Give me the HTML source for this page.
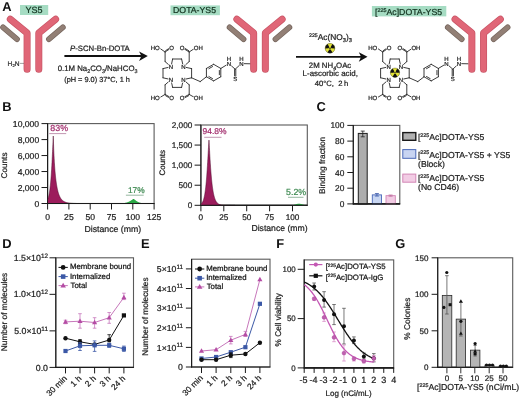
<!DOCTYPE html>
<html><head><meta charset="utf-8"><style>
html,body{margin:0;padding:0;background:#fff;width:520px;height:399px;overflow:hidden}
svg{display:block}
text{font-family:'Liberation Sans', Arial, sans-serif}
</style></head><body>
<svg width="520" height="399" viewBox="0 0 520 399" font-family="'Liberation Sans', Arial, sans-serif" text-rendering="geometricPrecision">
<rect width="520" height="399" fill="#fff"/>
<text x="2.36" y="10.60" font-size="12.9" text-anchor="start" fill="#111" stroke="#111" stroke-width="0" font-weight="bold" >A</text>
<text x="2.35" y="111.00" font-size="12.9" text-anchor="start" fill="#111" stroke="#111" stroke-width="0" font-weight="bold" >B</text>
<text x="316.53" y="111.40" font-size="12.9" text-anchor="start" fill="#111" stroke="#111" stroke-width="0" font-weight="bold" >C</text>
<text x="2.15" y="247.80" font-size="12.9" text-anchor="start" fill="#111" stroke="#111" stroke-width="0" font-weight="bold" >D</text>
<text x="140.95" y="247.80" font-size="12.9" text-anchor="start" fill="#111" stroke="#111" stroke-width="0" font-weight="bold" >E</text>
<text x="276.15" y="247.80" font-size="12.9" text-anchor="start" fill="#111" stroke="#111" stroke-width="0" font-weight="bold" >F</text>
<text x="395.13" y="247.80" font-size="12.9" text-anchor="start" fill="#111" stroke="#111" stroke-width="0" font-weight="bold" >G</text>
<rect x="20" y="5" width="28.2" height="10" fill="#a6dcc3"/>
<text x="25.38" y="13.20" font-size="9.011" text-anchor="start" fill="#12321f" stroke="#12321f" stroke-width="0.22" >YS5</text>
<g fill="none" stroke-linecap="round" stroke-linejoin="round">
<polyline points="3.10,27.40 16.95,39.10" stroke="#75655d" stroke-width="5.8" fill="none" />
<polyline points="3.10,27.40 16.95,39.10" stroke="#927f75" stroke-width="4.4" fill="none" />
<polyline points="62.80,27.40 48.95,39.10" stroke="#75655d" stroke-width="5.8" fill="none" />
<polyline points="62.80,27.40 48.95,39.10" stroke="#927f75" stroke-width="4.4" fill="none" />
<polyline points="10.30,19.20 27.10,33.00 27.10,69.20" stroke="#c85566" stroke-width="7.0" fill="none" />
<polyline points="10.30,19.20 27.10,33.00 27.10,69.20" stroke="#e06677" stroke-width="5.6" fill="none" />
<polyline points="55.60,19.20 38.80,33.00 38.80,69.20" stroke="#c85566" stroke-width="7.0" fill="none" />
<polyline points="55.60,19.20 38.80,33.00 38.80,69.20" stroke="#e06677" stroke-width="5.6" fill="none" />
</g>
<text x="7.62" y="65.70" font-size="6.626" text-anchor="start" fill="#333" stroke="#333" stroke-width="0.22" >H<tspan font-size="4.11" dy="0.80">2</tspan><tspan dy="-0.80">N</tspan></text>
<line x1="19.80" y1="63.40" x2="24.00" y2="63.40" stroke="#555" stroke-width="0.55" />
<line x1="64.40" y1="56.00" x2="141.80" y2="56.00" stroke="#111" stroke-width="1.8" />
<polygon points="147.80,56.00 139.10,51.40 141.40,56.00 139.10,60.90" fill="#111" stroke="none" stroke-width="0" />
<text x="70.02" y="50.70" font-size="7.757" text-anchor="start" fill="#222" stroke="#222" stroke-width="0.22" ><tspan font-style="italic">P</tspan>-SCN-Bn-DOTA</text>
<text x="57.64" y="71.10" font-size="7.836" text-anchor="start" fill="#222" stroke="#222" stroke-width="0.22" >0.1M Na<tspan font-size="5.33" dy="2.35">2</tspan><tspan dy="-2.35">CO</tspan><tspan font-size="5.33" dy="2.35">3</tspan><tspan dy="-2.35">/NaHCO</tspan><tspan font-size="5.33" dy="2.35">3</tspan></text>
<text x="64.21" y="81.70" font-size="7.367" text-anchor="start" fill="#222" stroke="#222" stroke-width="0.22" >(pH = 9.0) 37°C, 1 h</text>
<rect x="170.5" y="5.4" width="49.4" height="9.8" fill="#a6dcc3"/>
<text x="173.05" y="13.30" font-size="8.729" text-anchor="start" fill="#12321f" stroke="#12321f" stroke-width="0.22" >DOTA-YS5</text>
<g transform="translate(0.00,0.00)" stroke="#262626" stroke-width="0.75" fill="none" stroke-linecap="round">
<line x1="171.52" y1="64.25" x2="172.60" y2="59.00" stroke="#262626" stroke-width="0.9" />
<line x1="172.60" y1="59.00" x2="181.60" y2="59.00" stroke="#262626" stroke-width="0.9" />
<line x1="181.60" y1="59.00" x2="182.75" y2="64.26" stroke="#262626" stroke-width="0.9" />
<line x1="171.52" y1="82.15" x2="172.60" y2="87.40" stroke="#262626" stroke-width="0.9" />
<line x1="172.60" y1="87.40" x2="181.60" y2="87.40" stroke="#262626" stroke-width="0.9" />
<line x1="181.60" y1="87.40" x2="182.75" y2="82.14" stroke="#262626" stroke-width="0.9" />
<line x1="168.46" y1="67.37" x2="163.00" y2="68.60" stroke="#262626" stroke-width="0.9" />
<line x1="163.00" y1="68.60" x2="163.00" y2="77.80" stroke="#262626" stroke-width="0.9" />
<line x1="163.00" y1="77.80" x2="168.46" y2="79.03" stroke="#262626" stroke-width="0.9" />
<line x1="185.84" y1="67.35" x2="191.60" y2="68.60" stroke="#262626" stroke-width="0.9" />
<line x1="191.60" y1="68.60" x2="191.60" y2="77.80" stroke="#262626" stroke-width="0.9" />
<line x1="191.60" y1="77.80" x2="185.84" y2="79.05" stroke="#262626" stroke-width="0.9" />
<line x1="169.05" y1="65.08" x2="165.10" y2="61.60" stroke="#262626" stroke-width="0.9" />
<line x1="165.10" y1="61.60" x2="165.10" y2="52.00" stroke="#262626" stroke-width="0.9" />
<line x1="165.10" y1="52.00" x2="169.90" y2="48.80" stroke="#262626" stroke-width="0.9" />
<line x1="165.60" y1="50.67" x2="169.90" y2="47.80" stroke="#262626" stroke-width="0.9" />
<line x1="165.10" y1="52.00" x2="160.74" y2="48.95" stroke="#262626" stroke-width="0.9" />
<line x1="185.25" y1="65.08" x2="189.20" y2="61.60" stroke="#262626" stroke-width="0.9" />
<line x1="189.20" y1="61.60" x2="189.20" y2="52.00" stroke="#262626" stroke-width="0.9" />
<line x1="189.20" y1="52.00" x2="183.93" y2="48.75" stroke="#262626" stroke-width="0.9" />
<line x1="188.69" y1="50.68" x2="183.93" y2="47.75" stroke="#262626" stroke-width="0.9" />
<line x1="189.20" y1="52.00" x2="193.84" y2="48.91" stroke="#262626" stroke-width="0.9" />
<line x1="169.05" y1="81.32" x2="165.10" y2="84.80" stroke="#262626" stroke-width="0.9" />
<line x1="165.10" y1="84.80" x2="165.10" y2="94.40" stroke="#262626" stroke-width="0.9" />
<line x1="165.10" y1="94.40" x2="169.84" y2="97.11" stroke="#262626" stroke-width="0.9" />
<line x1="165.62" y1="95.70" x2="169.84" y2="98.11" stroke="#262626" stroke-width="0.9" />
<line x1="165.10" y1="94.40" x2="160.81" y2="96.97" stroke="#262626" stroke-width="0.9" />
<line x1="185.25" y1="81.32" x2="189.20" y2="84.80" stroke="#262626" stroke-width="0.9" />
<line x1="189.20" y1="84.80" x2="189.20" y2="94.40" stroke="#262626" stroke-width="0.9" />
<line x1="189.20" y1="94.40" x2="183.99" y2="97.16" stroke="#262626" stroke-width="0.9" />
<line x1="188.67" y1="95.68" x2="183.99" y2="98.16" stroke="#262626" stroke-width="0.9" />
<line x1="189.20" y1="94.40" x2="193.76" y2="97.01" stroke="#262626" stroke-width="0.9" />
<line x1="191.60" y1="77.80" x2="200.20" y2="81.60" stroke="#262626" stroke-width="0.9" />
<line x1="200.20" y1="81.60" x2="206.30" y2="76.90" stroke="#262626" stroke-width="0.9" />
<line x1="213.60" y1="64.30" x2="220.79" y2="68.45" stroke="#262626" stroke-width="0.9" />
<line x1="220.79" y1="68.45" x2="220.79" y2="76.75" stroke="#262626" stroke-width="0.9" />
<line x1="220.79" y1="76.75" x2="213.60" y2="80.90" stroke="#262626" stroke-width="0.9" />
<line x1="213.60" y1="80.90" x2="206.41" y2="76.75" stroke="#262626" stroke-width="0.9" />
<line x1="206.41" y1="76.75" x2="206.41" y2="68.45" stroke="#262626" stroke-width="0.9" />
<line x1="206.41" y1="68.45" x2="213.60" y2="64.30" stroke="#262626" stroke-width="0.9" />
<line x1="208.89" y1="68.68" x2="212.56" y2="66.56" stroke="#262626" stroke-width="0.9" />
<line x1="219.35" y1="70.48" x2="219.35" y2="74.72" stroke="#262626" stroke-width="0.9" />
<line x1="212.56" y1="78.64" x2="208.89" y2="76.52" stroke="#262626" stroke-width="0.9" />
<line x1="220.79" y1="68.45" x2="226.92" y2="64.74" stroke="#262626" stroke-width="0.9" />
<line x1="230.61" y1="65.18" x2="235.20" y2="69.20" stroke="#262626" stroke-width="0.9" />
<line x1="235.20" y1="69.20" x2="239.53" y2="65.22" stroke="#262626" stroke-width="0.9" />
<line x1="234.60" y1="69.50" x2="234.60" y2="76.30" stroke="#262626" stroke-width="0.9" />
<line x1="235.80" y1="69.50" x2="235.80" y2="76.30" stroke="#262626" stroke-width="0.9" />
<line x1="243.70" y1="63.65" x2="250.50" y2="63.80" stroke="#262626" stroke-width="0.9" />
</g>
<g transform="translate(0.00,0.00)" font-family="'Liberation Sans', Arial, sans-serif" font-size="6" fill="#222" text-anchor="middle">
<text x="171.00" y="68.95" text-anchor="middle" stroke="#fff" stroke-width="1.4" fill="#fff">N</text>
<text x="171.00" y="68.95" text-anchor="middle" stroke="#222" stroke-width="0.22">N</text>
<text x="183.30" y="68.95" text-anchor="middle" stroke="#fff" stroke-width="1.4" fill="#fff">N</text>
<text x="183.30" y="68.95" text-anchor="middle" stroke="#222" stroke-width="0.22">N</text>
<text x="171.00" y="81.75" text-anchor="middle" stroke="#fff" stroke-width="1.4" fill="#fff">N</text>
<text x="171.00" y="81.75" text-anchor="middle" stroke="#222" stroke-width="0.22">N</text>
<text x="183.30" y="81.75" text-anchor="middle" stroke="#fff" stroke-width="1.4" fill="#fff">N</text>
<text x="183.30" y="81.75" text-anchor="middle" stroke="#222" stroke-width="0.22">N</text>
<text x="155.20" y="49.95" text-anchor="middle" stroke="#fff" stroke-width="1.4" fill="#fff">HO</text>
<text x="155.20" y="49.95" text-anchor="middle" stroke="#222" stroke-width="0.22">HO</text>
<text x="171.60" y="49.95" text-anchor="middle" stroke="#fff" stroke-width="1.4" fill="#fff">O</text>
<text x="171.60" y="49.95" text-anchor="middle" stroke="#222" stroke-width="0.22">O</text>
<text x="182.20" y="49.95" text-anchor="middle" stroke="#fff" stroke-width="1.4" fill="#fff">O</text>
<text x="182.20" y="49.95" text-anchor="middle" stroke="#222" stroke-width="0.22">O</text>
<text x="198.30" y="49.95" text-anchor="middle" stroke="#fff" stroke-width="1.4" fill="#fff">OH</text>
<text x="198.30" y="49.95" text-anchor="middle" stroke="#222" stroke-width="0.22">OH</text>
<text x="155.20" y="100.15" text-anchor="middle" stroke="#fff" stroke-width="1.4" fill="#fff">HO</text>
<text x="155.20" y="100.15" text-anchor="middle" stroke="#222" stroke-width="0.22">HO</text>
<text x="171.60" y="100.15" text-anchor="middle" stroke="#fff" stroke-width="1.4" fill="#fff">O</text>
<text x="171.60" y="100.15" text-anchor="middle" stroke="#222" stroke-width="0.22">O</text>
<text x="182.20" y="100.15" text-anchor="middle" stroke="#fff" stroke-width="1.4" fill="#fff">O</text>
<text x="182.20" y="100.15" text-anchor="middle" stroke="#222" stroke-width="0.22">O</text>
<text x="198.30" y="100.15" text-anchor="middle" stroke="#fff" stroke-width="1.4" fill="#fff">OH</text>
<text x="198.30" y="100.15" text-anchor="middle" stroke="#222" stroke-width="0.22">OH</text>
<text x="228.80" y="65.75" text-anchor="middle" stroke="#fff" stroke-width="1.4" fill="#fff">N</text>
<text x="228.80" y="65.75" text-anchor="middle" stroke="#222" stroke-width="0.22">N</text>
<text x="228.80" y="60.95" text-anchor="middle" stroke="#fff" stroke-width="1.4" fill="#fff">H</text>
<text x="228.80" y="60.95" text-anchor="middle" stroke="#222" stroke-width="0.22">H</text>
<text x="241.30" y="65.75" text-anchor="middle" stroke="#fff" stroke-width="1.4" fill="#fff">N</text>
<text x="241.30" y="65.75" text-anchor="middle" stroke="#222" stroke-width="0.22">N</text>
<text x="241.30" y="60.95" text-anchor="middle" stroke="#fff" stroke-width="1.4" fill="#fff">H</text>
<text x="241.30" y="60.95" text-anchor="middle" stroke="#222" stroke-width="0.22">H</text>
<text x="235.20" y="80.65" text-anchor="middle" stroke="#fff" stroke-width="1.4" fill="#fff">S</text>
<text x="235.20" y="80.65" text-anchor="middle" stroke="#222" stroke-width="0.22">S</text>
</g>
<g fill="none" stroke-linecap="round" stroke-linejoin="round">
<polyline points="229.65,27.40 243.50,39.10" stroke="#75655d" stroke-width="5.8" fill="none" />
<polyline points="229.65,27.40 243.50,39.10" stroke="#927f75" stroke-width="4.4" fill="none" />
<polyline points="289.35,27.40 275.50,39.10" stroke="#75655d" stroke-width="5.8" fill="none" />
<polyline points="289.35,27.40 275.50,39.10" stroke="#927f75" stroke-width="4.4" fill="none" />
<polyline points="236.85,19.20 253.65,33.00 253.65,69.20" stroke="#c85566" stroke-width="7.0" fill="none" />
<polyline points="236.85,19.20 253.65,33.00 253.65,69.20" stroke="#e06677" stroke-width="5.6" fill="none" />
<polyline points="282.15,19.20 265.35,33.00 265.35,69.20" stroke="#c85566" stroke-width="7.0" fill="none" />
<polyline points="282.15,19.20 265.35,33.00 265.35,69.20" stroke="#e06677" stroke-width="5.6" fill="none" />
</g>
<line x1="296.00" y1="56.80" x2="361.50" y2="56.80" stroke="#111" stroke-width="1.8" />
<polygon points="367.50,56.80 358.80,52.20 361.10,56.80 358.80,61.70" fill="#111" stroke="none" stroke-width="0" />
<text x="309.00" y="39.60" font-size="8.399" text-anchor="start" fill="#222" stroke="#222" stroke-width="0.22" ><tspan font-size="5.21" dy="-3.02">225</tspan><tspan dy="3.02">Ac(NO</tspan><tspan font-size="5.71" dy="2.52">3</tspan><tspan dy="-2.52">)</tspan><tspan font-size="5.71" dy="2.52">3</tspan></text>
<g transform="translate(330.00,48.30)">
<circle r="5.00" fill="#e2e234"/>
<path d="M0.63,-1.14 L2.38,-4.29 A4.90,4.90 0 0 1 4.90,0.09 L1.30,0.02 A1.30,1.30 0 0 0 0.63,-1.14Z" fill="#111"/>
<path d="M0.67,1.11 L2.52,4.20 A4.90,4.90 0 0 1 -2.52,4.20 L-0.67,1.11 A1.30,1.30 0 0 0 0.67,1.11Z" fill="#111"/>
<path d="M-1.30,0.02 L-4.90,0.09 A4.90,4.90 0 0 1 -2.38,-4.29 L-0.63,-1.14 A1.30,1.30 0 0 0 -1.30,0.02Z" fill="#111"/>
<circle r="0.75" fill="#111"/>
<circle r="4.80" fill="none" stroke="#333" stroke-width="0.40"/>
</g>
<text x="308.86" y="67.80" font-size="7.817" text-anchor="start" fill="#222" stroke="#222" stroke-width="0.22" >2M NH<tspan font-size="5.32" dy="2.35">4</tspan><tspan dy="-2.35">OAc</tspan></text>
<text x="302.62" y="76.40" font-size="7.906" text-anchor="start" fill="#222" stroke="#222" stroke-width="0.22" >L-ascorbic acid,</text>
<text x="314.70" y="85.70" font-size="7.651" text-anchor="start" fill="#222" stroke="#222" stroke-width="0.22" >40°C,&#160; 2&#8201;h</text>
<rect x="371.9" y="6.0" width="74.4" height="10.4" fill="#a6dcc3"/>
<text x="375.04" y="14.70" font-size="8.732" text-anchor="start" fill="#12321f" stroke="#12321f" stroke-width="0.22" >[<tspan font-size="5.41" dy="-3.14">225</tspan><tspan dy="3.14">Ac]DOTA-YS5</tspan></text>
<g transform="translate(217.60,0.00)" stroke="#262626" stroke-width="0.75" fill="none" stroke-linecap="round">
<line x1="171.52" y1="64.25" x2="172.60" y2="59.00" stroke="#262626" stroke-width="0.9" />
<line x1="172.60" y1="59.00" x2="181.60" y2="59.00" stroke="#262626" stroke-width="0.9" />
<line x1="181.60" y1="59.00" x2="182.75" y2="64.26" stroke="#262626" stroke-width="0.9" />
<line x1="171.52" y1="82.15" x2="172.60" y2="87.40" stroke="#262626" stroke-width="0.9" />
<line x1="172.60" y1="87.40" x2="181.60" y2="87.40" stroke="#262626" stroke-width="0.9" />
<line x1="181.60" y1="87.40" x2="182.75" y2="82.14" stroke="#262626" stroke-width="0.9" />
<line x1="168.46" y1="67.37" x2="163.00" y2="68.60" stroke="#262626" stroke-width="0.9" />
<line x1="163.00" y1="68.60" x2="163.00" y2="77.80" stroke="#262626" stroke-width="0.9" />
<line x1="163.00" y1="77.80" x2="168.46" y2="79.03" stroke="#262626" stroke-width="0.9" />
<line x1="185.84" y1="67.35" x2="191.60" y2="68.60" stroke="#262626" stroke-width="0.9" />
<line x1="191.60" y1="68.60" x2="191.60" y2="77.80" stroke="#262626" stroke-width="0.9" />
<line x1="191.60" y1="77.80" x2="185.84" y2="79.05" stroke="#262626" stroke-width="0.9" />
<line x1="169.05" y1="65.08" x2="165.10" y2="61.60" stroke="#262626" stroke-width="0.9" />
<line x1="165.10" y1="61.60" x2="165.10" y2="52.00" stroke="#262626" stroke-width="0.9" />
<line x1="165.10" y1="52.00" x2="169.90" y2="48.80" stroke="#262626" stroke-width="0.9" />
<line x1="165.60" y1="50.67" x2="169.90" y2="47.80" stroke="#262626" stroke-width="0.9" />
<line x1="165.10" y1="52.00" x2="160.74" y2="48.95" stroke="#262626" stroke-width="0.9" />
<line x1="185.25" y1="65.08" x2="189.20" y2="61.60" stroke="#262626" stroke-width="0.9" />
<line x1="189.20" y1="61.60" x2="189.20" y2="52.00" stroke="#262626" stroke-width="0.9" />
<line x1="189.20" y1="52.00" x2="183.93" y2="48.75" stroke="#262626" stroke-width="0.9" />
<line x1="188.69" y1="50.68" x2="183.93" y2="47.75" stroke="#262626" stroke-width="0.9" />
<line x1="189.20" y1="52.00" x2="193.84" y2="48.91" stroke="#262626" stroke-width="0.9" />
<line x1="169.05" y1="81.32" x2="165.10" y2="84.80" stroke="#262626" stroke-width="0.9" />
<line x1="165.10" y1="84.80" x2="165.10" y2="94.40" stroke="#262626" stroke-width="0.9" />
<line x1="165.10" y1="94.40" x2="169.84" y2="97.11" stroke="#262626" stroke-width="0.9" />
<line x1="165.62" y1="95.70" x2="169.84" y2="98.11" stroke="#262626" stroke-width="0.9" />
<line x1="165.10" y1="94.40" x2="160.81" y2="96.97" stroke="#262626" stroke-width="0.9" />
<line x1="185.25" y1="81.32" x2="189.20" y2="84.80" stroke="#262626" stroke-width="0.9" />
<line x1="189.20" y1="84.80" x2="189.20" y2="94.40" stroke="#262626" stroke-width="0.9" />
<line x1="189.20" y1="94.40" x2="183.99" y2="97.16" stroke="#262626" stroke-width="0.9" />
<line x1="188.67" y1="95.68" x2="183.99" y2="98.16" stroke="#262626" stroke-width="0.9" />
<line x1="189.20" y1="94.40" x2="193.76" y2="97.01" stroke="#262626" stroke-width="0.9" />
<line x1="191.60" y1="77.80" x2="200.20" y2="81.60" stroke="#262626" stroke-width="0.9" />
<line x1="200.20" y1="81.60" x2="206.30" y2="76.90" stroke="#262626" stroke-width="0.9" />
<line x1="213.60" y1="64.30" x2="220.79" y2="68.45" stroke="#262626" stroke-width="0.9" />
<line x1="220.79" y1="68.45" x2="220.79" y2="76.75" stroke="#262626" stroke-width="0.9" />
<line x1="220.79" y1="76.75" x2="213.60" y2="80.90" stroke="#262626" stroke-width="0.9" />
<line x1="213.60" y1="80.90" x2="206.41" y2="76.75" stroke="#262626" stroke-width="0.9" />
<line x1="206.41" y1="76.75" x2="206.41" y2="68.45" stroke="#262626" stroke-width="0.9" />
<line x1="206.41" y1="68.45" x2="213.60" y2="64.30" stroke="#262626" stroke-width="0.9" />
<line x1="208.89" y1="68.68" x2="212.56" y2="66.56" stroke="#262626" stroke-width="0.9" />
<line x1="219.35" y1="70.48" x2="219.35" y2="74.72" stroke="#262626" stroke-width="0.9" />
<line x1="212.56" y1="78.64" x2="208.89" y2="76.52" stroke="#262626" stroke-width="0.9" />
<line x1="220.79" y1="68.45" x2="226.92" y2="64.74" stroke="#262626" stroke-width="0.9" />
<line x1="230.61" y1="65.18" x2="235.20" y2="69.20" stroke="#262626" stroke-width="0.9" />
<line x1="235.20" y1="69.20" x2="239.53" y2="65.22" stroke="#262626" stroke-width="0.9" />
<line x1="234.60" y1="69.50" x2="234.60" y2="76.30" stroke="#262626" stroke-width="0.9" />
<line x1="235.80" y1="69.50" x2="235.80" y2="76.30" stroke="#262626" stroke-width="0.9" />
<line x1="243.70" y1="63.65" x2="250.50" y2="63.80" stroke="#262626" stroke-width="0.9" />
</g>
<g transform="translate(217.60,0.00)" font-family="'Liberation Sans', Arial, sans-serif" font-size="6" fill="#222" text-anchor="middle">
<text x="171.00" y="68.95" text-anchor="middle" stroke="#fff" stroke-width="1.4" fill="#fff">N</text>
<text x="171.00" y="68.95" text-anchor="middle" stroke="#222" stroke-width="0.22">N</text>
<text x="183.30" y="68.95" text-anchor="middle" stroke="#fff" stroke-width="1.4" fill="#fff">N</text>
<text x="183.30" y="68.95" text-anchor="middle" stroke="#222" stroke-width="0.22">N</text>
<text x="171.00" y="81.75" text-anchor="middle" stroke="#fff" stroke-width="1.4" fill="#fff">N</text>
<text x="171.00" y="81.75" text-anchor="middle" stroke="#222" stroke-width="0.22">N</text>
<text x="183.30" y="81.75" text-anchor="middle" stroke="#fff" stroke-width="1.4" fill="#fff">N</text>
<text x="183.30" y="81.75" text-anchor="middle" stroke="#222" stroke-width="0.22">N</text>
<text x="155.20" y="49.95" text-anchor="middle" stroke="#fff" stroke-width="1.4" fill="#fff">HO</text>
<text x="155.20" y="49.95" text-anchor="middle" stroke="#222" stroke-width="0.22">HO</text>
<text x="171.60" y="49.95" text-anchor="middle" stroke="#fff" stroke-width="1.4" fill="#fff">O</text>
<text x="171.60" y="49.95" text-anchor="middle" stroke="#222" stroke-width="0.22">O</text>
<text x="182.20" y="49.95" text-anchor="middle" stroke="#fff" stroke-width="1.4" fill="#fff">O</text>
<text x="182.20" y="49.95" text-anchor="middle" stroke="#222" stroke-width="0.22">O</text>
<text x="198.30" y="49.95" text-anchor="middle" stroke="#fff" stroke-width="1.4" fill="#fff">OH</text>
<text x="198.30" y="49.95" text-anchor="middle" stroke="#222" stroke-width="0.22">OH</text>
<text x="155.20" y="100.15" text-anchor="middle" stroke="#fff" stroke-width="1.4" fill="#fff">HO</text>
<text x="155.20" y="100.15" text-anchor="middle" stroke="#222" stroke-width="0.22">HO</text>
<text x="171.60" y="100.15" text-anchor="middle" stroke="#fff" stroke-width="1.4" fill="#fff">O</text>
<text x="171.60" y="100.15" text-anchor="middle" stroke="#222" stroke-width="0.22">O</text>
<text x="182.20" y="100.15" text-anchor="middle" stroke="#fff" stroke-width="1.4" fill="#fff">O</text>
<text x="182.20" y="100.15" text-anchor="middle" stroke="#222" stroke-width="0.22">O</text>
<text x="198.30" y="100.15" text-anchor="middle" stroke="#fff" stroke-width="1.4" fill="#fff">OH</text>
<text x="198.30" y="100.15" text-anchor="middle" stroke="#222" stroke-width="0.22">OH</text>
<text x="228.80" y="65.75" text-anchor="middle" stroke="#fff" stroke-width="1.4" fill="#fff">N</text>
<text x="228.80" y="65.75" text-anchor="middle" stroke="#222" stroke-width="0.22">N</text>
<text x="228.80" y="60.95" text-anchor="middle" stroke="#fff" stroke-width="1.4" fill="#fff">H</text>
<text x="228.80" y="60.95" text-anchor="middle" stroke="#222" stroke-width="0.22">H</text>
<text x="241.30" y="65.75" text-anchor="middle" stroke="#fff" stroke-width="1.4" fill="#fff">N</text>
<text x="241.30" y="65.75" text-anchor="middle" stroke="#222" stroke-width="0.22">N</text>
<text x="241.30" y="60.95" text-anchor="middle" stroke="#fff" stroke-width="1.4" fill="#fff">H</text>
<text x="241.30" y="60.95" text-anchor="middle" stroke="#222" stroke-width="0.22">H</text>
<text x="235.20" y="80.65" text-anchor="middle" stroke="#fff" stroke-width="1.4" fill="#fff">S</text>
<text x="235.20" y="80.65" text-anchor="middle" stroke="#222" stroke-width="0.22">S</text>
</g>
<g transform="translate(395.00,72.70)">
<circle r="4.80" fill="#e2e234"/>
<path d="M0.61,-1.09 L2.28,-4.11 A4.70,4.70 0 0 1 4.70,0.08 L1.25,0.02 A1.25,1.25 0 0 0 0.61,-1.09Z" fill="#111"/>
<path d="M0.64,1.07 L2.42,4.03 A4.70,4.70 0 0 1 -2.42,4.03 L-0.64,1.07 A1.25,1.25 0 0 0 0.64,1.07Z" fill="#111"/>
<path d="M-1.25,0.02 L-4.70,0.08 A4.70,4.70 0 0 1 -2.28,-4.11 L-0.61,-1.09 A1.25,1.25 0 0 0 -1.25,0.02Z" fill="#111"/>
<circle r="0.72" fill="#111"/>
<circle r="4.61" fill="none" stroke="#333" stroke-width="0.38"/>
</g>
<g fill="none" stroke-linecap="round" stroke-linejoin="round">
<polyline points="447.85,27.40 461.70,39.10" stroke="#75655d" stroke-width="5.8" fill="none" />
<polyline points="447.85,27.40 461.70,39.10" stroke="#927f75" stroke-width="4.4" fill="none" />
<polyline points="507.55,27.40 493.70,39.10" stroke="#75655d" stroke-width="5.8" fill="none" />
<polyline points="507.55,27.40 493.70,39.10" stroke="#927f75" stroke-width="4.4" fill="none" />
<polyline points="455.05,19.20 471.85,33.00 471.85,69.20" stroke="#c85566" stroke-width="7.0" fill="none" />
<polyline points="455.05,19.20 471.85,33.00 471.85,69.20" stroke="#e06677" stroke-width="5.6" fill="none" />
<polyline points="500.35,19.20 483.55,33.00 483.55,69.20" stroke="#c85566" stroke-width="7.0" fill="none" />
<polyline points="500.35,19.20 483.55,33.00 483.55,69.20" stroke="#e06677" stroke-width="5.6" fill="none" />
</g>
<rect x="47.60" y="123.60" width="106.50" height="79.90" fill="none" stroke="#5a5a5a" stroke-width="1.1"/>
<line x1="47.60" y1="123.30" x2="47.60" y2="204.00" stroke="#1a1a1a" stroke-width="1.1" />
<line x1="47.10" y1="203.50" x2="154.50" y2="203.50" stroke="#1a1a1a" stroke-width="1.1" />
<polygon points="47.90,203.50 47.90,198.76 47.98,198.53 48.06,198.30 48.14,198.06 48.22,197.80 48.30,197.53 48.38,197.26 48.46,196.97 48.54,196.66 48.62,196.35 48.70,196.02 48.78,195.67 48.86,195.31 48.94,194.94 49.02,194.55 49.10,194.14 49.18,193.72 49.26,193.28 49.34,192.82 49.42,192.34 49.50,191.84 49.59,191.33 49.67,190.79 49.75,190.23 49.83,189.64 49.91,189.04 49.99,188.41 50.07,187.75 50.15,187.07 50.23,186.36 50.31,185.63 50.39,184.87 50.47,184.08 50.55,183.26 50.63,182.41 50.71,181.53 50.79,180.61 50.87,179.67 50.95,178.69 51.03,177.67 51.11,176.63 51.19,175.54 51.27,174.42 51.35,173.26 51.43,172.07 51.51,170.84 51.59,169.56 51.67,168.25 51.75,166.91 51.83,165.52 51.91,164.09 51.99,162.62 52.07,161.12 52.15,159.58 52.23,158.00 52.31,156.38 52.39,154.73 52.47,153.05 52.55,151.34 52.63,149.61 52.71,147.85 52.80,146.08 52.88,144.30 52.96,142.53 53.04,140.78 53.12,139.07 53.20,137.44 53.28,136.01 53.36,138.42 53.44,141.31 53.52,143.83 53.60,146.11 53.68,148.22 53.76,150.19 53.84,152.05 53.92,153.79 54.00,155.45 54.08,157.03 54.16,158.53 54.24,159.96 54.32,161.33 54.40,162.64 54.48,163.90 54.56,165.10 54.64,166.26 54.72,167.37 54.80,168.44 54.88,169.47 54.96,170.47 55.04,171.42 55.12,172.35 55.20,173.24 55.28,174.10 55.36,174.93 55.44,175.73 55.52,176.51 55.60,177.26 55.68,177.98 55.76,178.68 55.84,179.36 55.92,180.02 56.01,180.66 56.09,181.27 56.17,181.87 56.25,182.45 56.33,183.01 56.41,183.56 56.49,184.08 56.57,184.59 56.65,185.09 56.73,185.57 56.81,186.04 56.89,186.49 56.97,186.94 57.05,187.36 57.13,187.78 57.21,188.18 57.29,188.57 57.37,188.95 57.45,189.32 57.53,189.68 57.61,190.03 57.69,190.37 57.77,190.70 57.85,191.02 57.93,191.34 58.01,191.64 58.09,191.94 58.17,192.22 58.25,192.50 58.33,192.77 58.41,193.04 58.49,193.30 58.57,193.55 58.65,193.79 58.73,194.03 58.81,194.26 58.89,194.48 58.97,194.70 59.05,194.91 59.13,195.12 59.22,195.32 59.30,195.52 59.38,195.71 59.46,195.90 59.54,196.08 59.62,196.26 59.70,196.43 59.78,196.60 59.86,196.76 59.94,196.92 60.02,197.08 60.10,197.23 60.18,197.38 60.26,197.52 60.34,197.66 60.42,197.80 60.50,197.93 60.58,198.06 60.66,198.19 60.74,198.31 60.82,198.44 60.90,198.55 60.98,198.67 61.06,198.78 61.14,198.89 61.22,199.00 61.30,199.10 61.38,199.20 61.46,199.30 61.54,199.40 61.62,199.49 61.70,199.58 61.78,199.67 61.86,199.76 61.94,199.84 62.02,199.93 62.10,200.01 62.18,200.09 62.26,200.16 62.34,200.24 62.43,200.31 62.51,200.39 62.59,200.46 62.67,200.52 62.75,200.59 62.83,200.66 62.91,200.72 62.99,200.78 63.07,200.84 63.15,200.90 63.23,200.96 63.31,201.02 63.39,201.07 63.47,201.13 63.55,201.18 63.63,201.23 63.71,201.28 63.79,201.33 63.87,201.38 63.95,201.43 64.03,201.47 64.11,201.52 64.19,201.56 64.27,201.60 64.35,201.64 64.43,201.69 64.51,201.73 64.59,201.76 64.67,201.80 64.75,201.84 64.83,201.88 64.91,201.91 64.99,201.95 65.07,201.98 65.15,202.01 65.23,202.04 65.31,202.08 65.39,202.11 65.47,202.14 65.56,202.17 65.64,202.20 65.72,202.22 65.80,202.25 65.88,202.28 65.96,202.30 66.04,202.33 66.12,202.36 66.20,202.38 66.28,202.40 66.36,202.43 66.44,202.45 66.52,202.47 66.60,202.49 66.68,202.52 66.76,202.54 66.84,202.56 66.92,202.58 67.00,202.60 67.08,202.62 67.16,202.64 67.24,202.65 67.32,202.67 67.40,202.69 67.48,202.71 67.56,202.72 67.64,202.74 67.72,202.76 67.80,202.77 67.88,202.79 67.96,202.80 68.04,202.82 68.12,202.83 68.20,202.85 68.28,202.86 68.36,202.87 68.44,202.89 68.52,202.90 68.60,202.91 68.68,202.92 68.77,202.94 68.85,202.95 68.93,202.96 69.01,202.97 69.09,202.98 69.17,202.99 69.25,203.00 69.33,203.01 69.41,203.02 69.49,203.03 69.57,203.04 69.65,203.05 69.73,203.06 69.81,203.07 69.89,203.08 69.97,203.09 70.05,203.10 70.13,203.10 70.21,203.11 70.29,203.12 70.37,203.13 70.45,203.14 70.53,203.14 70.61,203.15 70.69,203.16 70.77,203.17 70.85,203.17 70.93,203.18 71.01,203.19 71.09,203.19 71.17,203.20 71.25,203.20 71.33,203.21 71.41,203.22 71.49,203.22 71.57,203.23 71.65,203.23 71.73,203.24 71.81,203.24 71.89,203.25 71.97,203.25 72.06,203.26 72.14,203.26 72.22,203.27 72.30,203.27 72.38,203.28 72.46,203.28 72.54,203.29 72.62,203.29 72.70,203.30 72.78,203.30 72.86,203.30 72.94,203.31 73.02,203.31 73.10,203.32 73.18,203.32 73.26,203.32 73.34,203.33 73.42,203.33 73.50,203.33 73.58,203.34 73.66,203.34 73.74,203.34 73.82,203.35 73.90,203.35 73.98,203.35 74.06,203.36 74.14,203.36 74.22,203.36 74.30,203.36 74.38,203.37 74.46,203.37 74.54,203.37 74.62,203.37 74.70,203.38 74.78,203.38 74.86,203.38 74.94,203.38 75.02,203.39 75.10,203.39 75.19,203.39 75.27,203.39 75.35,203.40 75.43,203.40 75.51,203.40 75.59,203.40 75.67,203.40 75.75,203.41 75.83,203.41 75.91,203.41 75.99,203.41 76.07,203.41 76.15,203.41 76.23,203.42 76.31,203.42 76.39,203.42 76.47,203.42 76.55,203.42 76.63,203.42 76.71,203.43 76.79,203.43 76.87,203.43 76.95,203.43 77.03,203.43 77.11,203.43 77.19,203.43 77.27,203.43 77.35,203.44 77.43,203.44 77.51,203.44 77.59,203.44 77.67,203.44 77.75,203.44 77.83,203.44 77.91,203.44 77.99,203.45 78.07,203.45 78.15,203.45 78.23,203.45 78.31,203.45 78.39,203.45 78.48,203.45 78.56,203.45 78.64,203.45 78.72,203.45 78.80,203.46 78.88,203.46 78.96,203.46 79.04,203.46 79.12,203.46 79.20,203.46 79.28,203.46 79.36,203.46 79.44,203.46 79.52,203.46 79.60,203.46 79.68,203.46 79.76,203.46 79.84,203.47 79.92,203.47 80.00,203.47 80.00,203.50" fill="#9c1c5c" stroke="none" stroke-width="0" />
<polyline points="47.90,198.76 47.98,198.53 48.06,198.30 48.14,198.06 48.22,197.80 48.30,197.53 48.38,197.26 48.46,196.97 48.54,196.66 48.62,196.35 48.70,196.02 48.78,195.67 48.86,195.31 48.94,194.94 49.02,194.55 49.10,194.14 49.18,193.72 49.26,193.28 49.34,192.82 49.42,192.34 49.50,191.84 49.59,191.33 49.67,190.79 49.75,190.23 49.83,189.64 49.91,189.04 49.99,188.41 50.07,187.75 50.15,187.07 50.23,186.36 50.31,185.63 50.39,184.87 50.47,184.08 50.55,183.26 50.63,182.41 50.71,181.53 50.79,180.61 50.87,179.67 50.95,178.69 51.03,177.67 51.11,176.63 51.19,175.54 51.27,174.42 51.35,173.26 51.43,172.07 51.51,170.84 51.59,169.56 51.67,168.25 51.75,166.91 51.83,165.52 51.91,164.09 51.99,162.62 52.07,161.12 52.15,159.58 52.23,158.00 52.31,156.38 52.39,154.73 52.47,153.05 52.55,151.34 52.63,149.61 52.71,147.85 52.80,146.08 52.88,144.30 52.96,142.53 53.04,140.78 53.12,139.07 53.20,137.44 53.28,136.01 53.36,138.42 53.44,141.31 53.52,143.83 53.60,146.11 53.68,148.22 53.76,150.19 53.84,152.05 53.92,153.79 54.00,155.45 54.08,157.03 54.16,158.53 54.24,159.96 54.32,161.33 54.40,162.64 54.48,163.90 54.56,165.10 54.64,166.26 54.72,167.37 54.80,168.44 54.88,169.47 54.96,170.47 55.04,171.42 55.12,172.35 55.20,173.24 55.28,174.10 55.36,174.93 55.44,175.73 55.52,176.51 55.60,177.26 55.68,177.98 55.76,178.68 55.84,179.36 55.92,180.02 56.01,180.66 56.09,181.27 56.17,181.87 56.25,182.45 56.33,183.01 56.41,183.56 56.49,184.08 56.57,184.59 56.65,185.09 56.73,185.57 56.81,186.04 56.89,186.49 56.97,186.94 57.05,187.36 57.13,187.78 57.21,188.18 57.29,188.57 57.37,188.95 57.45,189.32 57.53,189.68 57.61,190.03 57.69,190.37 57.77,190.70 57.85,191.02 57.93,191.34 58.01,191.64 58.09,191.94 58.17,192.22 58.25,192.50 58.33,192.77 58.41,193.04 58.49,193.30 58.57,193.55 58.65,193.79 58.73,194.03 58.81,194.26 58.89,194.48 58.97,194.70 59.05,194.91 59.13,195.12 59.22,195.32 59.30,195.52 59.38,195.71 59.46,195.90 59.54,196.08 59.62,196.26 59.70,196.43 59.78,196.60 59.86,196.76 59.94,196.92 60.02,197.08 60.10,197.23 60.18,197.38 60.26,197.52 60.34,197.66 60.42,197.80 60.50,197.93 60.58,198.06 60.66,198.19 60.74,198.31 60.82,198.44 60.90,198.55 60.98,198.67 61.06,198.78 61.14,198.89 61.22,199.00 61.30,199.10 61.38,199.20 61.46,199.30 61.54,199.40 61.62,199.49 61.70,199.58 61.78,199.67 61.86,199.76 61.94,199.84 62.02,199.93 62.10,200.01 62.18,200.09 62.26,200.16 62.34,200.24 62.43,200.31 62.51,200.39 62.59,200.46 62.67,200.52 62.75,200.59 62.83,200.66 62.91,200.72 62.99,200.78 63.07,200.84 63.15,200.90 63.23,200.96 63.31,201.02 63.39,201.07 63.47,201.13 63.55,201.18 63.63,201.23 63.71,201.28 63.79,201.33 63.87,201.38 63.95,201.43 64.03,201.47 64.11,201.52 64.19,201.56 64.27,201.60 64.35,201.64 64.43,201.69 64.51,201.73 64.59,201.76 64.67,201.80 64.75,201.84 64.83,201.88 64.91,201.91 64.99,201.95 65.07,201.98 65.15,202.01 65.23,202.04 65.31,202.08 65.39,202.11 65.47,202.14 65.56,202.17 65.64,202.20 65.72,202.22 65.80,202.25 65.88,202.28 65.96,202.30 66.04,202.33 66.12,202.36 66.20,202.38 66.28,202.40 66.36,202.43 66.44,202.45 66.52,202.47 66.60,202.49 66.68,202.52 66.76,202.54 66.84,202.56 66.92,202.58 67.00,202.60 67.08,202.62 67.16,202.64 67.24,202.65 67.32,202.67 67.40,202.69 67.48,202.71 67.56,202.72 67.64,202.74 67.72,202.76 67.80,202.77 67.88,202.79 67.96,202.80 68.04,202.82 68.12,202.83 68.20,202.85 68.28,202.86 68.36,202.87 68.44,202.89 68.52,202.90 68.60,202.91 68.68,202.92 68.77,202.94 68.85,202.95 68.93,202.96 69.01,202.97 69.09,202.98 69.17,202.99 69.25,203.00 69.33,203.01 69.41,203.02 69.49,203.03 69.57,203.04 69.65,203.05 69.73,203.06 69.81,203.07 69.89,203.08 69.97,203.09 70.05,203.10 70.13,203.10 70.21,203.11 70.29,203.12 70.37,203.13 70.45,203.14 70.53,203.14 70.61,203.15 70.69,203.16 70.77,203.17 70.85,203.17 70.93,203.18 71.01,203.19 71.09,203.19 71.17,203.20 71.25,203.20 71.33,203.21 71.41,203.22 71.49,203.22 71.57,203.23 71.65,203.23 71.73,203.24 71.81,203.24 71.89,203.25 71.97,203.25 72.06,203.26 72.14,203.26 72.22,203.27 72.30,203.27 72.38,203.28 72.46,203.28 72.54,203.29 72.62,203.29 72.70,203.30 72.78,203.30 72.86,203.30 72.94,203.31 73.02,203.31 73.10,203.32 73.18,203.32 73.26,203.32 73.34,203.33 73.42,203.33 73.50,203.33 73.58,203.34 73.66,203.34 73.74,203.34 73.82,203.35 73.90,203.35 73.98,203.35 74.06,203.36 74.14,203.36 74.22,203.36 74.30,203.36 74.38,203.37 74.46,203.37 74.54,203.37 74.62,203.37 74.70,203.38 74.78,203.38 74.86,203.38 74.94,203.38 75.02,203.39 75.10,203.39 75.19,203.39 75.27,203.39 75.35,203.40 75.43,203.40 75.51,203.40 75.59,203.40 75.67,203.40 75.75,203.41 75.83,203.41 75.91,203.41 75.99,203.41 76.07,203.41 76.15,203.41 76.23,203.42 76.31,203.42 76.39,203.42 76.47,203.42 76.55,203.42 76.63,203.42 76.71,203.43 76.79,203.43 76.87,203.43 76.95,203.43 77.03,203.43 77.11,203.43 77.19,203.43 77.27,203.43 77.35,203.44 77.43,203.44 77.51,203.44 77.59,203.44 77.67,203.44 77.75,203.44 77.83,203.44 77.91,203.44 77.99,203.45 78.07,203.45 78.15,203.45 78.23,203.45 78.31,203.45 78.39,203.45 78.48,203.45 78.56,203.45 78.64,203.45 78.72,203.45 78.80,203.46 78.88,203.46 78.96,203.46 79.04,203.46 79.12,203.46 79.20,203.46 79.28,203.46 79.36,203.46 79.44,203.46 79.52,203.46 79.60,203.46 79.68,203.46 79.76,203.46 79.84,203.47 79.92,203.47 80.00,203.47" stroke="#4a0a2a" stroke-width="0.5" fill="none" />
<polygon points="112.00,203.50 112.00,203.49 112.10,203.49 112.20,203.49 112.30,203.49 112.40,203.49 112.50,203.49 112.60,203.49 112.70,203.49 112.80,203.49 112.90,203.49 113.00,203.49 113.10,203.49 113.20,203.49 113.30,203.49 113.40,203.49 113.50,203.49 113.60,203.49 113.70,203.49 113.80,203.49 113.90,203.49 114.00,203.49 114.10,203.49 114.20,203.49 114.30,203.49 114.40,203.49 114.50,203.48 114.60,203.48 114.70,203.48 114.80,203.48 114.90,203.48 115.00,203.48 115.10,203.48 115.20,203.48 115.30,203.48 115.40,203.48 115.50,203.48 115.60,203.48 115.70,203.48 115.80,203.47 115.90,203.47 116.00,203.47 116.10,203.47 116.20,203.47 116.30,203.47 116.40,203.47 116.50,203.47 116.60,203.47 116.70,203.46 116.80,203.46 116.90,203.46 117.00,203.46 117.10,203.46 117.20,203.46 117.30,203.46 117.40,203.45 117.50,203.45 117.60,203.45 117.70,203.45 117.80,203.45 117.90,203.44 118.00,203.44 118.10,203.44 118.20,203.44 118.30,203.44 118.40,203.43 118.50,203.43 118.60,203.43 118.70,203.43 118.80,203.42 118.90,203.42 119.00,203.42 119.10,203.42 119.20,203.41 119.30,203.41 119.40,203.41 119.50,203.40 119.60,203.40 119.70,203.39 119.80,203.39 119.90,203.39 120.00,203.38 120.10,203.38 120.20,203.37 120.30,203.37 120.40,203.37 120.50,203.36 120.60,203.36 120.70,203.35 120.80,203.35 120.90,203.34 121.00,203.33 121.10,203.33 121.20,203.32 121.30,203.32 121.40,203.31 121.50,203.30 121.60,203.30 121.70,203.29 121.80,203.28 121.90,203.28 122.00,203.27 122.10,203.26 122.20,203.25 122.30,203.24 122.40,203.23 122.50,203.23 122.60,203.22 122.70,203.21 122.80,203.20 122.90,203.19 123.00,203.18 123.10,203.17 123.20,203.16 123.30,203.14 123.40,203.13 123.50,203.12 123.60,203.11 123.70,203.10 123.80,203.08 123.90,203.07 124.00,203.05 124.10,203.04 124.20,203.03 124.30,203.01 124.40,203.00 124.50,202.98 124.60,202.96 124.70,202.95 124.80,202.93 124.90,202.91 125.00,202.89 125.10,202.87 125.20,202.85 125.30,202.83 125.40,202.81 125.50,202.79 125.60,202.77 125.70,202.75 125.80,202.73 125.90,202.70 126.00,202.68 126.10,202.65 126.20,202.63 126.30,202.60 126.40,202.58 126.50,202.55 126.60,202.52 126.70,202.49 126.80,202.46 126.90,202.43 127.00,202.40 127.10,202.37 127.20,202.34 127.30,202.31 127.40,202.27 127.50,202.24 127.60,202.20 127.70,202.17 127.80,202.13 127.90,202.09 128.00,202.06 128.10,202.02 128.20,201.98 128.30,201.94 128.40,201.89 128.50,201.85 128.60,201.81 128.70,201.76 128.80,201.72 128.90,201.67 129.00,201.62 129.10,201.58 129.20,201.53 129.30,201.48 129.40,201.43 129.50,201.38 129.60,201.32 129.70,201.27 129.80,201.22 129.90,201.16 130.00,201.10 130.10,201.05 130.20,200.99 130.30,200.93 130.40,200.87 130.50,200.81 130.60,200.75 130.70,200.69 130.80,200.63 130.90,200.56 131.00,200.50 131.10,200.44 131.20,200.37 131.30,200.30 131.40,200.24 131.50,200.17 131.60,200.11 131.70,200.04 131.80,199.97 131.90,199.90 132.00,199.84 132.10,199.77 132.20,199.70 132.30,199.63 132.40,199.57 132.50,199.50 132.60,199.43 132.70,199.37 132.80,199.31 132.90,199.24 133.00,199.18 133.10,199.12 133.20,199.07 133.30,199.02 133.40,198.97 133.50,198.93 133.60,198.90 133.70,198.94 133.80,198.99 133.90,199.05 134.00,199.11 134.10,199.18 134.20,199.25 134.30,199.33 134.40,199.40 134.50,199.48 134.60,199.56 134.70,199.64 134.80,199.72 134.90,199.80 135.00,199.88 135.10,199.96 135.20,200.04 135.30,200.12 135.40,200.20 135.50,200.28 135.60,200.36 135.70,200.44 135.80,200.51 135.90,200.59 136.00,200.66 136.10,200.74 136.20,200.81 136.30,200.88 136.40,200.95 136.50,201.02 136.60,201.09 136.70,201.16 136.80,201.22 136.90,201.29 137.00,201.35 137.10,201.41 137.20,201.47 137.30,201.53 137.40,201.59 137.50,201.64 137.60,201.70 137.70,201.75 137.80,201.81 137.90,201.86 138.00,201.91 138.10,201.96 138.20,202.01 138.30,202.05 138.40,202.10 138.50,202.14 138.60,202.19 138.70,202.23 138.80,202.27 138.90,202.31 139.00,202.35 139.10,202.39 139.20,202.42 139.30,202.46 139.40,202.50 139.50,202.53 139.60,202.56 139.70,202.59 139.80,202.62 139.90,202.65 140.00,202.68 140.10,202.71 140.20,202.74 140.30,202.77 140.40,202.79 140.50,202.82 140.60,202.84 140.70,202.86 140.80,202.89 140.90,202.91 141.00,202.93 141.10,202.95 141.20,202.97 141.30,202.99 141.40,203.01 141.50,203.03 141.60,203.04 141.70,203.06 141.80,203.08 141.90,203.09 142.00,203.11 142.10,203.12 142.20,203.14 142.30,203.15 142.40,203.16 142.50,203.18 142.60,203.19 142.70,203.20 142.80,203.21 142.90,203.22 143.00,203.23 143.10,203.24 143.20,203.25 143.30,203.26 143.40,203.27 143.50,203.28 143.60,203.29 143.70,203.30 143.80,203.31 143.90,203.31 144.00,203.32 144.10,203.33 144.20,203.34 144.30,203.34 144.40,203.35 144.50,203.35 144.60,203.36 144.70,203.37 144.80,203.37 144.90,203.38 145.00,203.38 145.10,203.39 145.20,203.39 145.30,203.40 145.40,203.40 145.50,203.40 145.60,203.41 145.70,203.41 145.80,203.42 145.90,203.42 146.00,203.42 146.10,203.43 146.20,203.43 146.30,203.43 146.40,203.43 146.50,203.44 146.60,203.44 146.70,203.44 146.80,203.45 146.90,203.45 147.00,203.45 147.10,203.45 147.20,203.45 147.30,203.46 147.40,203.46 147.50,203.46 147.60,203.46 147.70,203.46 147.80,203.46 147.90,203.47 148.00,203.47 148.10,203.47 148.20,203.47 148.30,203.47 148.40,203.47 148.50,203.47 148.60,203.48 148.70,203.48 148.80,203.48 148.90,203.48 149.00,203.48 149.10,203.48 149.20,203.48 149.30,203.48 149.40,203.48 149.50,203.48 149.60,203.48 149.70,203.49 149.80,203.49 149.90,203.49 150.00,203.49 150.10,203.49 150.20,203.49 150.30,203.49 150.40,203.49 150.50,203.49 150.60,203.49 150.70,203.49 150.80,203.49 150.90,203.49 151.00,203.49 151.10,203.49 151.20,203.49 151.30,203.49 151.40,203.49 151.50,203.49 151.60,203.49 151.70,203.49 151.80,203.49 151.90,203.49 152.00,203.49 152.00,203.50" fill="#2aa845" stroke="none" stroke-width="0" />
<line x1="47.60" y1="203.50" x2="154.10" y2="203.50" stroke="#1a1a1a" stroke-width="1.1" />
<line x1="41.50" y1="203.50" x2="47.60" y2="203.50" stroke="#1a1a1a" stroke-width="1" />
<text x="34.38" y="206.58" font-size="8.605" text-anchor="start" fill="#222" stroke="#222" stroke-width="0.22" >0</text>
<line x1="41.50" y1="187.52" x2="47.60" y2="187.52" stroke="#1a1a1a" stroke-width="1" />
<text x="17.68" y="190.60" font-size="8.605" text-anchor="start" fill="#222" stroke="#222" stroke-width="0.22" >2,000</text>
<line x1="41.50" y1="171.54" x2="47.60" y2="171.54" stroke="#1a1a1a" stroke-width="1" />
<text x="17.68" y="174.62" font-size="8.605" text-anchor="start" fill="#222" stroke="#222" stroke-width="0.22" >4,000</text>
<line x1="41.50" y1="155.56" x2="47.60" y2="155.56" stroke="#1a1a1a" stroke-width="1" />
<text x="17.68" y="158.64" font-size="8.605" text-anchor="start" fill="#222" stroke="#222" stroke-width="0.22" >6,000</text>
<line x1="41.50" y1="139.58" x2="47.60" y2="139.58" stroke="#1a1a1a" stroke-width="1" />
<text x="17.68" y="142.66" font-size="8.605" text-anchor="start" fill="#222" stroke="#222" stroke-width="0.22" >8,000</text>
<line x1="41.50" y1="123.60" x2="47.60" y2="123.60" stroke="#1a1a1a" stroke-width="1" />
<text x="12.86" y="126.68" font-size="8.605" text-anchor="start" fill="#222" stroke="#222" stroke-width="0.22" >10,000</text>
<line x1="47.60" y1="203.50" x2="47.60" y2="209.50" stroke="#1a1a1a" stroke-width="1" />
<text x="47.60" y="219.60" font-size="8.605" text-anchor="middle" fill="#222" stroke="#222" stroke-width="0.22" >0</text>
<line x1="68.90" y1="203.50" x2="68.90" y2="209.50" stroke="#1a1a1a" stroke-width="1" />
<text x="68.90" y="219.60" font-size="8.605" text-anchor="middle" fill="#222" stroke="#222" stroke-width="0.22" >25</text>
<line x1="90.20" y1="203.50" x2="90.20" y2="209.50" stroke="#1a1a1a" stroke-width="1" />
<text x="90.20" y="219.60" font-size="8.605" text-anchor="middle" fill="#222" stroke="#222" stroke-width="0.22" >50</text>
<line x1="111.50" y1="203.50" x2="111.50" y2="209.50" stroke="#1a1a1a" stroke-width="1" />
<text x="111.50" y="219.60" font-size="8.605" text-anchor="middle" fill="#222" stroke="#222" stroke-width="0.22" >75</text>
<line x1="132.80" y1="203.50" x2="132.80" y2="209.50" stroke="#1a1a1a" stroke-width="1" />
<text x="132.80" y="219.60" font-size="8.605" text-anchor="middle" fill="#222" stroke="#222" stroke-width="0.22" >100</text>
<line x1="154.10" y1="203.50" x2="154.10" y2="209.50" stroke="#1a1a1a" stroke-width="1" />
<text x="154.10" y="219.60" font-size="8.605" text-anchor="middle" fill="#222" stroke="#222" stroke-width="0.22" >125</text>
<text x="84.45" y="231.50" font-size="8.726" text-anchor="start" fill="#222" stroke="#222" stroke-width="0.22" >Distance (mm)</text>
<text x="0.00" y="0.00" font-size="8.2" text-anchor="middle" fill="#222" stroke="#222" stroke-width="0.22" transform="translate(6.6,165.5) rotate(-90)">Counts</text>
<text x="50.30" y="131.20" font-size="8.86" text-anchor="start" fill="#a3306f" stroke="#a3306f" stroke-width="0.22" >83%</text>
<line x1="49.20" y1="133.60" x2="66.20" y2="133.60" stroke="#a86890" stroke-width="0.7" />
<text x="127.88" y="192.80" font-size="8.36" text-anchor="start" fill="#3f8a52" stroke="#3f8a52" stroke-width="0.22" >17%</text>
<line x1="125.90" y1="195.20" x2="143.70" y2="195.20" stroke="#6a9a78" stroke-width="0.7" />
<rect x="200.90" y="125.00" width="106.40" height="80.30" fill="none" stroke="#5a5a5a" stroke-width="1.1"/>
<line x1="200.90" y1="124.70" x2="200.90" y2="205.80" stroke="#1a1a1a" stroke-width="1.1" />
<line x1="200.40" y1="205.30" x2="307.70" y2="205.30" stroke="#1a1a1a" stroke-width="1.1" />
<polygon points="201.20,205.30 201.20,203.84 201.28,203.77 201.37,203.69 201.45,203.60 201.54,203.51 201.62,203.42 201.71,203.32 201.79,203.21 201.88,203.10 201.96,202.99 202.05,202.87 202.13,202.75 202.21,202.61 202.30,202.48 202.38,202.33 202.47,202.18 202.55,202.02 202.64,201.86 202.72,201.68 202.81,201.50 202.89,201.31 202.97,201.11 203.06,200.90 203.14,200.69 203.23,200.46 203.31,200.22 203.40,199.97 203.48,199.71 203.57,199.44 203.65,199.16 203.74,198.86 203.82,198.55 203.90,198.23 203.99,197.90 204.07,197.54 204.16,197.18 204.24,196.80 204.33,196.40 204.41,195.99 204.50,195.56 204.58,195.11 204.66,194.65 204.75,194.16 204.83,193.66 204.92,193.13 205.00,192.59 205.09,192.02 205.17,191.44 205.26,190.83 205.34,190.19 205.43,189.54 205.51,188.86 205.59,188.15 205.68,187.42 205.76,186.66 205.85,185.88 205.93,185.07 206.02,184.23 206.10,183.36 206.19,182.46 206.27,181.54 206.35,180.58 206.44,179.60 206.52,178.59 206.61,177.54 206.69,176.46 206.78,175.36 206.86,174.22 206.95,173.05 207.03,171.85 207.12,170.62 207.20,169.36 207.28,168.07 207.37,166.75 207.45,165.40 207.54,164.03 207.62,162.63 207.71,161.20 207.79,159.76 207.88,158.29 207.96,156.80 208.04,155.31 208.13,153.80 208.21,152.28 208.30,150.76 208.38,149.25 208.47,147.75 208.55,146.28 208.64,144.84 208.72,143.45 208.81,142.15 208.89,140.96 208.97,139.99 209.06,140.78 209.14,142.36 209.23,143.99 209.31,145.63 209.40,147.27 209.48,148.90 209.57,150.50 209.65,152.08 209.73,153.63 209.82,155.15 209.90,156.64 209.99,158.10 210.07,159.52 210.16,160.92 210.24,162.28 210.33,163.60 210.41,164.89 210.50,166.15 210.58,167.37 210.66,168.57 210.75,169.73 210.83,170.85 210.92,171.95 211.00,173.02 211.09,174.05 211.17,175.06 211.26,176.04 211.34,176.98 211.42,177.91 211.51,178.80 211.59,179.67 211.68,180.51 211.76,181.32 211.85,182.11 211.93,182.88 212.02,183.62 212.10,184.35 212.19,185.04 212.27,185.72 212.35,186.38 212.44,187.01 212.52,187.63 212.61,188.22 212.69,188.80 212.78,189.36 212.86,189.90 212.95,190.42 213.03,190.93 213.11,191.42 213.20,191.89 213.28,192.35 213.37,192.79 213.45,193.22 213.54,193.64 213.62,194.04 213.71,194.43 213.79,194.81 213.88,195.17 213.96,195.52 214.04,195.86 214.13,196.19 214.21,196.51 214.30,196.81 214.38,197.11 214.47,197.40 214.55,197.67 214.64,197.94 214.72,198.20 214.80,198.45 214.89,198.69 214.97,198.92 215.06,199.15 215.14,199.36 215.23,199.57 215.31,199.78 215.40,199.97 215.48,200.16 215.56,200.35 215.65,200.52 215.73,200.69 215.82,200.86 215.90,201.02 215.99,201.17 216.07,201.32 216.16,201.46 216.24,201.60 216.33,201.73 216.41,201.86 216.49,201.98 216.58,202.10 216.66,202.22 216.75,202.33 216.83,202.44 216.92,202.54 217.00,202.64 217.09,202.73 217.17,202.83 217.25,202.92 217.34,203.00 217.42,203.09 217.51,203.17 217.59,203.25 217.68,203.32 217.76,203.39 217.85,203.46 217.93,203.53 218.02,203.59 218.10,203.66 218.18,203.72 218.27,203.77 218.35,203.83 218.44,203.88 218.52,203.94 218.61,203.99 218.69,204.04 218.78,204.08 218.86,204.13 218.94,204.17 219.03,204.21 219.11,204.25 219.20,204.29 219.28,204.33 219.37,204.36 219.45,204.40 219.54,204.43 219.62,204.46 219.71,204.50 219.79,204.53 219.87,204.55 219.96,204.58 220.04,204.61 220.13,204.63 220.21,204.66 220.30,204.68 220.38,204.71 220.47,204.73 220.55,204.75 220.64,204.77 220.72,204.79 220.80,204.81 220.89,204.83 220.97,204.85 221.06,204.86 221.14,204.88 221.23,204.89 221.31,204.91 221.40,204.92 221.48,204.94 221.56,204.95 221.65,204.97 221.73,204.98 221.82,204.99 221.90,205.00 221.99,205.01 222.07,205.02 222.16,205.03 222.24,205.04 222.33,205.05 222.41,205.06 222.49,205.07 222.58,205.08 222.66,205.09 222.75,205.10 222.83,205.11 222.92,205.11 223.00,205.12 223.09,205.13 223.17,205.13 223.25,205.14 223.34,205.15 223.42,205.15 223.51,205.16 223.59,205.16 223.68,205.17 223.76,205.17 223.85,205.18 223.93,205.18 224.02,205.19 224.10,205.19 224.18,205.20 224.27,205.20 224.35,205.20 224.44,205.21 224.52,205.21 224.61,205.21 224.69,205.22 224.78,205.22 224.86,205.22 224.94,205.23 225.03,205.23 225.11,205.23 225.20,205.23 225.28,205.24 225.37,205.24 225.45,205.24 225.54,205.24 225.62,205.25 225.71,205.25 225.79,205.25 225.87,205.25 225.96,205.25 226.04,205.26 226.13,205.26 226.21,205.26 226.30,205.26 226.38,205.26 226.47,205.26 226.55,205.27 226.63,205.27 226.72,205.27 226.80,205.27 226.89,205.27 226.97,205.27 227.06,205.27 227.14,205.27 227.23,205.27 227.31,205.28 227.40,205.28 227.48,205.28 227.56,205.28 227.65,205.28 227.73,205.28 227.82,205.28 227.90,205.28 227.99,205.28 228.07,205.28 228.16,205.28 228.24,205.28 228.32,205.28 228.41,205.29 228.49,205.29 228.58,205.29 228.66,205.29 228.75,205.29 228.83,205.29 228.92,205.29 229.00,205.29 229.09,205.29 229.17,205.29 229.25,205.29 229.34,205.29 229.42,205.29 229.51,205.29 229.59,205.29 229.68,205.29 229.76,205.29 229.85,205.29 229.93,205.29 230.01,205.29 230.10,205.29 230.18,205.29 230.27,205.29 230.35,205.29 230.44,205.29 230.52,205.29 230.61,205.29 230.69,205.30 230.78,205.30 230.86,205.30 230.94,205.30 231.03,205.30 231.11,205.30 231.20,205.30 231.28,205.30 231.37,205.30 231.45,205.30 231.54,205.30 231.62,205.30 231.70,205.30 231.79,205.30 231.87,205.30 231.96,205.30 232.04,205.30 232.13,205.30 232.21,205.30 232.30,205.30 232.38,205.30 232.47,205.30 232.55,205.30 232.63,205.30 232.72,205.30 232.80,205.30 232.89,205.30 232.97,205.30 233.06,205.30 233.14,205.30 233.23,205.30 233.31,205.30 233.39,205.30 233.48,205.30 233.56,205.30 233.65,205.30 233.73,205.30 233.82,205.30 233.90,205.30 233.99,205.30 234.07,205.30 234.16,205.30 234.24,205.30 234.32,205.30 234.41,205.30 234.49,205.30 234.58,205.30 234.66,205.30 234.75,205.30 234.83,205.30 234.92,205.30 235.00,205.30 235.00,205.30" fill="#9c1c5c" stroke="none" stroke-width="0" />
<polyline points="201.20,203.84 201.28,203.77 201.37,203.69 201.45,203.60 201.54,203.51 201.62,203.42 201.71,203.32 201.79,203.21 201.88,203.10 201.96,202.99 202.05,202.87 202.13,202.75 202.21,202.61 202.30,202.48 202.38,202.33 202.47,202.18 202.55,202.02 202.64,201.86 202.72,201.68 202.81,201.50 202.89,201.31 202.97,201.11 203.06,200.90 203.14,200.69 203.23,200.46 203.31,200.22 203.40,199.97 203.48,199.71 203.57,199.44 203.65,199.16 203.74,198.86 203.82,198.55 203.90,198.23 203.99,197.90 204.07,197.54 204.16,197.18 204.24,196.80 204.33,196.40 204.41,195.99 204.50,195.56 204.58,195.11 204.66,194.65 204.75,194.16 204.83,193.66 204.92,193.13 205.00,192.59 205.09,192.02 205.17,191.44 205.26,190.83 205.34,190.19 205.43,189.54 205.51,188.86 205.59,188.15 205.68,187.42 205.76,186.66 205.85,185.88 205.93,185.07 206.02,184.23 206.10,183.36 206.19,182.46 206.27,181.54 206.35,180.58 206.44,179.60 206.52,178.59 206.61,177.54 206.69,176.46 206.78,175.36 206.86,174.22 206.95,173.05 207.03,171.85 207.12,170.62 207.20,169.36 207.28,168.07 207.37,166.75 207.45,165.40 207.54,164.03 207.62,162.63 207.71,161.20 207.79,159.76 207.88,158.29 207.96,156.80 208.04,155.31 208.13,153.80 208.21,152.28 208.30,150.76 208.38,149.25 208.47,147.75 208.55,146.28 208.64,144.84 208.72,143.45 208.81,142.15 208.89,140.96 208.97,139.99 209.06,140.78 209.14,142.36 209.23,143.99 209.31,145.63 209.40,147.27 209.48,148.90 209.57,150.50 209.65,152.08 209.73,153.63 209.82,155.15 209.90,156.64 209.99,158.10 210.07,159.52 210.16,160.92 210.24,162.28 210.33,163.60 210.41,164.89 210.50,166.15 210.58,167.37 210.66,168.57 210.75,169.73 210.83,170.85 210.92,171.95 211.00,173.02 211.09,174.05 211.17,175.06 211.26,176.04 211.34,176.98 211.42,177.91 211.51,178.80 211.59,179.67 211.68,180.51 211.76,181.32 211.85,182.11 211.93,182.88 212.02,183.62 212.10,184.35 212.19,185.04 212.27,185.72 212.35,186.38 212.44,187.01 212.52,187.63 212.61,188.22 212.69,188.80 212.78,189.36 212.86,189.90 212.95,190.42 213.03,190.93 213.11,191.42 213.20,191.89 213.28,192.35 213.37,192.79 213.45,193.22 213.54,193.64 213.62,194.04 213.71,194.43 213.79,194.81 213.88,195.17 213.96,195.52 214.04,195.86 214.13,196.19 214.21,196.51 214.30,196.81 214.38,197.11 214.47,197.40 214.55,197.67 214.64,197.94 214.72,198.20 214.80,198.45 214.89,198.69 214.97,198.92 215.06,199.15 215.14,199.36 215.23,199.57 215.31,199.78 215.40,199.97 215.48,200.16 215.56,200.35 215.65,200.52 215.73,200.69 215.82,200.86 215.90,201.02 215.99,201.17 216.07,201.32 216.16,201.46 216.24,201.60 216.33,201.73 216.41,201.86 216.49,201.98 216.58,202.10 216.66,202.22 216.75,202.33 216.83,202.44 216.92,202.54 217.00,202.64 217.09,202.73 217.17,202.83 217.25,202.92 217.34,203.00 217.42,203.09 217.51,203.17 217.59,203.25 217.68,203.32 217.76,203.39 217.85,203.46 217.93,203.53 218.02,203.59 218.10,203.66 218.18,203.72 218.27,203.77 218.35,203.83 218.44,203.88 218.52,203.94 218.61,203.99 218.69,204.04 218.78,204.08 218.86,204.13 218.94,204.17 219.03,204.21 219.11,204.25 219.20,204.29 219.28,204.33 219.37,204.36 219.45,204.40 219.54,204.43 219.62,204.46 219.71,204.50 219.79,204.53 219.87,204.55 219.96,204.58 220.04,204.61 220.13,204.63 220.21,204.66 220.30,204.68 220.38,204.71 220.47,204.73 220.55,204.75 220.64,204.77 220.72,204.79 220.80,204.81 220.89,204.83 220.97,204.85 221.06,204.86 221.14,204.88 221.23,204.89 221.31,204.91 221.40,204.92 221.48,204.94 221.56,204.95 221.65,204.97 221.73,204.98 221.82,204.99 221.90,205.00 221.99,205.01 222.07,205.02 222.16,205.03 222.24,205.04 222.33,205.05 222.41,205.06 222.49,205.07 222.58,205.08 222.66,205.09 222.75,205.10 222.83,205.11 222.92,205.11 223.00,205.12 223.09,205.13 223.17,205.13 223.25,205.14 223.34,205.15 223.42,205.15 223.51,205.16 223.59,205.16 223.68,205.17 223.76,205.17 223.85,205.18 223.93,205.18 224.02,205.19 224.10,205.19 224.18,205.20 224.27,205.20 224.35,205.20 224.44,205.21 224.52,205.21 224.61,205.21 224.69,205.22 224.78,205.22 224.86,205.22 224.94,205.23 225.03,205.23 225.11,205.23 225.20,205.23 225.28,205.24 225.37,205.24 225.45,205.24 225.54,205.24 225.62,205.25 225.71,205.25 225.79,205.25 225.87,205.25 225.96,205.25 226.04,205.26 226.13,205.26 226.21,205.26 226.30,205.26 226.38,205.26 226.47,205.26 226.55,205.27 226.63,205.27 226.72,205.27 226.80,205.27 226.89,205.27 226.97,205.27 227.06,205.27 227.14,205.27 227.23,205.27 227.31,205.28 227.40,205.28 227.48,205.28 227.56,205.28 227.65,205.28 227.73,205.28 227.82,205.28 227.90,205.28 227.99,205.28 228.07,205.28 228.16,205.28 228.24,205.28 228.32,205.28 228.41,205.29 228.49,205.29 228.58,205.29 228.66,205.29 228.75,205.29 228.83,205.29 228.92,205.29 229.00,205.29 229.09,205.29 229.17,205.29 229.25,205.29 229.34,205.29 229.42,205.29 229.51,205.29 229.59,205.29 229.68,205.29 229.76,205.29 229.85,205.29 229.93,205.29 230.01,205.29 230.10,205.29 230.18,205.29 230.27,205.29 230.35,205.29 230.44,205.29 230.52,205.29 230.61,205.29 230.69,205.30 230.78,205.30 230.86,205.30 230.94,205.30 231.03,205.30 231.11,205.30 231.20,205.30 231.28,205.30 231.37,205.30 231.45,205.30 231.54,205.30 231.62,205.30 231.70,205.30 231.79,205.30 231.87,205.30 231.96,205.30 232.04,205.30 232.13,205.30 232.21,205.30 232.30,205.30 232.38,205.30 232.47,205.30 232.55,205.30 232.63,205.30 232.72,205.30 232.80,205.30 232.89,205.30 232.97,205.30 233.06,205.30 233.14,205.30 233.23,205.30 233.31,205.30 233.39,205.30 233.48,205.30 233.56,205.30 233.65,205.30 233.73,205.30 233.82,205.30 233.90,205.30 233.99,205.30 234.07,205.30 234.16,205.30 234.24,205.30 234.32,205.30 234.41,205.30 234.49,205.30 234.58,205.30 234.66,205.30 234.75,205.30 234.83,205.30 234.92,205.30 235.00,205.30" stroke="#4a0a2a" stroke-width="0.5" fill="none" />
<polygon points="288.84,205.30 288.84,205.29 289.06,205.29 289.29,205.28 289.52,205.28 289.75,205.27 289.98,205.27 290.21,205.26 290.44,205.25 290.67,205.24 290.90,205.23 291.13,205.22 291.36,205.20 291.58,205.18 291.81,205.16 292.04,205.14 292.27,205.11 292.50,205.08 292.73,205.05 292.96,205.01 293.19,204.97 293.42,204.93 293.64,204.88 293.87,204.83 294.10,204.78 294.33,204.72 294.56,204.66 294.79,204.60 295.02,204.53 295.25,204.46 295.48,204.40 295.71,204.33 295.94,204.26 296.16,204.19 296.39,204.12 296.62,204.06 296.85,203.99 297.08,203.94 297.31,203.88 297.54,203.83 297.77,203.79 298.00,203.76 298.23,203.73 298.45,203.71 298.68,203.70 298.91,203.69 299.14,203.70 299.37,203.71 299.60,203.73 299.83,203.76 300.06,203.79 300.29,203.83 300.51,203.88 300.74,203.94 300.97,203.99 301.20,204.06 301.43,204.12 301.66,204.19 301.89,204.26 302.12,204.33 302.35,204.40 302.58,204.46 302.81,204.53 303.03,204.60 303.26,204.66 303.49,204.72 303.72,204.78 303.95,204.83 304.18,204.88 304.41,204.93 304.64,204.97 304.87,205.01 305.10,205.05 305.32,205.08 305.55,205.11 305.78,205.14 306.01,205.16 306.24,205.18 306.47,205.20 306.70,205.22 306.93,205.23 307.16,205.24 307.16,205.30" fill="#2aa845" stroke="none" stroke-width="0" />
<line x1="200.90" y1="205.30" x2="307.30" y2="205.30" stroke="#1a1a1a" stroke-width="1.1" />
<line x1="194.60" y1="205.30" x2="200.90" y2="205.30" stroke="#1a1a1a" stroke-width="1" />
<text x="187.68" y="208.24" font-size="8.216" text-anchor="start" fill="#222" stroke="#222" stroke-width="0.22" >0</text>
<line x1="194.60" y1="185.23" x2="200.90" y2="185.23" stroke="#1a1a1a" stroke-width="1" />
<text x="178.56" y="188.17" font-size="8.216" text-anchor="start" fill="#222" stroke="#222" stroke-width="0.22" >500</text>
<line x1="194.60" y1="165.15" x2="200.90" y2="165.15" stroke="#1a1a1a" stroke-width="1" />
<text x="171.74" y="168.09" font-size="8.216" text-anchor="start" fill="#222" stroke="#222" stroke-width="0.22" >1,000</text>
<line x1="194.60" y1="145.07" x2="200.90" y2="145.07" stroke="#1a1a1a" stroke-width="1" />
<text x="171.74" y="148.02" font-size="8.216" text-anchor="start" fill="#222" stroke="#222" stroke-width="0.22" >1,500</text>
<line x1="194.60" y1="125.00" x2="200.90" y2="125.00" stroke="#1a1a1a" stroke-width="1" />
<text x="171.74" y="127.94" font-size="8.216" text-anchor="start" fill="#222" stroke="#222" stroke-width="0.22" >2,000</text>
<line x1="200.90" y1="205.30" x2="200.90" y2="211.30" stroke="#1a1a1a" stroke-width="1" />
<text x="200.90" y="220.00" font-size="8.216" text-anchor="middle" fill="#222" stroke="#222" stroke-width="0.22" >0</text>
<line x1="223.80" y1="205.30" x2="223.80" y2="211.30" stroke="#1a1a1a" stroke-width="1" />
<text x="223.80" y="220.00" font-size="8.216" text-anchor="middle" fill="#222" stroke="#222" stroke-width="0.22" >25</text>
<line x1="246.70" y1="205.30" x2="246.70" y2="211.30" stroke="#1a1a1a" stroke-width="1" />
<text x="246.70" y="220.00" font-size="8.216" text-anchor="middle" fill="#222" stroke="#222" stroke-width="0.22" >50</text>
<line x1="269.60" y1="205.30" x2="269.60" y2="211.30" stroke="#1a1a1a" stroke-width="1" />
<text x="269.60" y="220.00" font-size="8.216" text-anchor="middle" fill="#222" stroke="#222" stroke-width="0.22" >75</text>
<line x1="292.50" y1="205.30" x2="292.50" y2="211.30" stroke="#1a1a1a" stroke-width="1" />
<text x="292.50" y="220.00" font-size="8.216" text-anchor="middle" fill="#222" stroke="#222" stroke-width="0.22" >100</text>
<text x="251.46" y="231.20" font-size="8.648" text-anchor="start" fill="#222" stroke="#222" stroke-width="0.22" >Distance (mm)</text>
<text x="0.00" y="0.00" font-size="8.0" text-anchor="middle" fill="#222" stroke="#222" stroke-width="0.22" transform="translate(165.2,162.8) rotate(-90)">Counts</text>
<text x="202.53" y="134.20" font-size="8.473" text-anchor="start" fill="#a3306f" stroke="#a3306f" stroke-width="0.22" >94.8%</text>
<line x1="204.20" y1="137.30" x2="221.50" y2="137.30" stroke="#a86890" stroke-width="0.7" />
<text x="286.10" y="194.70" font-size="8.818" text-anchor="start" fill="#3f8a52" stroke="#3f8a52" stroke-width="0.22" >5.2%</text>
<line x1="288.00" y1="197.30" x2="303.50" y2="197.30" stroke="#6a9a78" stroke-width="0.7" />
<rect x="353.30" y="125.40" width="46.50" height="78.50" fill="none" stroke="#5a5a5a" stroke-width="1.1"/>
<line x1="353.30" y1="125.10" x2="353.30" y2="204.40" stroke="#1a1a1a" stroke-width="1.1" />
<line x1="352.80" y1="203.90" x2="400.20" y2="203.90" stroke="#1a1a1a" stroke-width="1.1" />
<rect x="358.30" y="133.41" width="8.90" height="70.49" fill="#adadad" stroke="#1e1e1e" stroke-width="1.0"/>
<rect x="372.30" y="194.87" width="9.20" height="9.03" fill="#c8d6f2" stroke="#4a68b8" stroke-width="0.9"/>
<rect x="386.00" y="195.66" width="9.30" height="8.24" fill="#f2cce4" stroke="#d286b6" stroke-width="0.9"/>
<line x1="362.75" y1="131.10" x2="362.75" y2="136.80" stroke="#222" stroke-width="0.8" />
<line x1="360.75" y1="131.10" x2="364.75" y2="131.10" stroke="#222" stroke-width="0.8" />
<line x1="360.75" y1="136.80" x2="364.75" y2="136.80" stroke="#222" stroke-width="0.8" />
<line x1="376.90" y1="193.54" x2="376.90" y2="196.05" stroke="#3a58a8" stroke-width="0.8" />
<line x1="374.90" y1="193.54" x2="378.90" y2="193.54" stroke="#3a58a8" stroke-width="0.8" />
<line x1="374.90" y1="196.05" x2="378.90" y2="196.05" stroke="#3a58a8" stroke-width="0.8" />
<line x1="390.60" y1="195.03" x2="390.60" y2="196.21" stroke="#c070a0" stroke-width="0.8" />
<line x1="388.60" y1="195.03" x2="392.60" y2="195.03" stroke="#c070a0" stroke-width="0.8" />
<line x1="388.60" y1="196.21" x2="392.60" y2="196.21" stroke="#c070a0" stroke-width="0.8" />
<line x1="353.30" y1="203.90" x2="399.80" y2="203.90" stroke="#1a1a1a" stroke-width="1.1" />
<line x1="347.30" y1="203.90" x2="353.30" y2="203.90" stroke="#1a1a1a" stroke-width="1" />
<text x="339.69" y="206.90" font-size="8.387" text-anchor="start" fill="#222" stroke="#222" stroke-width="0.22" >0</text>
<line x1="347.30" y1="188.20" x2="353.30" y2="188.20" stroke="#1a1a1a" stroke-width="1" />
<text x="335.08" y="191.20" font-size="8.387" text-anchor="start" fill="#222" stroke="#222" stroke-width="0.22" >20</text>
<line x1="347.30" y1="172.50" x2="353.30" y2="172.50" stroke="#1a1a1a" stroke-width="1" />
<text x="335.08" y="175.50" font-size="8.387" text-anchor="start" fill="#222" stroke="#222" stroke-width="0.22" >40</text>
<line x1="347.30" y1="156.80" x2="353.30" y2="156.80" stroke="#1a1a1a" stroke-width="1" />
<text x="335.08" y="159.80" font-size="8.387" text-anchor="start" fill="#222" stroke="#222" stroke-width="0.22" >60</text>
<line x1="347.30" y1="141.10" x2="353.30" y2="141.10" stroke="#1a1a1a" stroke-width="1" />
<text x="335.08" y="144.10" font-size="8.387" text-anchor="start" fill="#222" stroke="#222" stroke-width="0.22" >80</text>
<line x1="347.30" y1="125.40" x2="353.30" y2="125.40" stroke="#1a1a1a" stroke-width="1" />
<text x="330.38" y="128.40" font-size="8.387" text-anchor="start" fill="#222" stroke="#222" stroke-width="0.22" >100</text>
<text x="0.00" y="0.00" font-size="8.3" text-anchor="middle" fill="#222" stroke="#222" stroke-width="0.22" transform="translate(324.6,165.4) rotate(-90)">Binding fraction</text>
<rect x="402.8" y="132.60" width="13" height="7.70" fill="#b0b0b0" stroke="#1a1a1a" stroke-width="1.4"/>
<rect x="402.8" y="149.60" width="13" height="8.70" fill="#c8d4f2" stroke="#4a68b8" stroke-width="1.0"/>
<rect x="402.8" y="174.10" width="13" height="8.10" fill="#f2cce4" stroke="#d286b6" stroke-width="1.0"/>
<text x="417.94" y="139.80" font-size="8.653" text-anchor="start" fill="#222" stroke="#222" stroke-width="0.22" >[<tspan font-size="5.36" dy="-3.11">225</tspan><tspan dy="3.11">Ac]DOTA-YS5</tspan></text>
<text x="417.94" y="157.60" font-size="8.653" text-anchor="start" fill="#222" stroke="#222" stroke-width="0.22" >[<tspan font-size="5.36" dy="-3.11">225</tspan><tspan dy="3.11">Ac]DOTA-YS5</tspan> + YS5</text>
<text x="418.03" y="166.60" font-size="8.653" text-anchor="start" fill="#222" stroke="#222" stroke-width="0.22" >(Block)</text>
<text x="417.94" y="181.00" font-size="8.653" text-anchor="start" fill="#222" stroke="#222" stroke-width="0.22" >[<tspan font-size="5.36" dy="-3.11">225</tspan><tspan dy="3.11">Ac]DOTA-YS5</tspan></text>
<text x="418.03" y="190.40" font-size="8.653" text-anchor="start" fill="#222" stroke="#222" stroke-width="0.22" >(No CD46)</text>
<rect x="55.80" y="257.80" width="77.70" height="109.60" fill="none" stroke="#5a5a5a" stroke-width="1.1"/>
<line x1="55.80" y1="257.50" x2="55.80" y2="367.90" stroke="#1a1a1a" stroke-width="1.1" />
<line x1="55.30" y1="367.40" x2="133.90" y2="367.40" stroke="#1a1a1a" stroke-width="1.1" />
<line x1="65.50" y1="320.20" x2="65.50" y2="323.70" stroke="#c777bb" stroke-width="0.8" />
<line x1="63.70" y1="320.20" x2="67.30" y2="320.20" stroke="#c777bb" stroke-width="0.8" />
<line x1="63.70" y1="323.70" x2="67.30" y2="323.70" stroke="#c777bb" stroke-width="0.8" />
<line x1="80.00" y1="313.70" x2="80.00" y2="328.20" stroke="#c777bb" stroke-width="0.8" />
<line x1="78.20" y1="313.70" x2="81.80" y2="313.70" stroke="#c777bb" stroke-width="0.8" />
<line x1="78.20" y1="328.20" x2="81.80" y2="328.20" stroke="#c777bb" stroke-width="0.8" />
<line x1="94.60" y1="317.70" x2="94.60" y2="328.20" stroke="#c777bb" stroke-width="0.8" />
<line x1="92.80" y1="317.70" x2="96.40" y2="317.70" stroke="#c777bb" stroke-width="0.8" />
<line x1="92.80" y1="328.20" x2="96.40" y2="328.20" stroke="#c777bb" stroke-width="0.8" />
<line x1="109.20" y1="312.50" x2="109.20" y2="323.30" stroke="#c777bb" stroke-width="0.8" />
<line x1="107.40" y1="312.50" x2="111.00" y2="312.50" stroke="#c777bb" stroke-width="0.8" />
<line x1="107.40" y1="323.30" x2="111.00" y2="323.30" stroke="#c777bb" stroke-width="0.8" />
<line x1="123.90" y1="293.20" x2="123.90" y2="299.60" stroke="#c777bb" stroke-width="0.8" />
<line x1="122.10" y1="293.20" x2="125.70" y2="293.20" stroke="#c777bb" stroke-width="0.8" />
<line x1="122.10" y1="299.60" x2="125.70" y2="299.60" stroke="#c777bb" stroke-width="0.8" />
<polyline points="65.50,321.90 80.00,321.20 94.60,322.50 109.20,317.70 123.90,297.40" stroke="#c777bb" stroke-width="1.0" fill="none" />
<polygon points="65.50,319.20 68.06,323.65 62.94,323.65" fill="#b44ca4" stroke="none" stroke-width="0" />
<polygon points="80.00,318.50 82.56,322.95 77.44,322.95" fill="#b44ca4" stroke="none" stroke-width="0" />
<polygon points="94.60,319.80 97.16,324.25 92.03,324.25" fill="#b44ca4" stroke="none" stroke-width="0" />
<polygon points="109.20,315.00 111.77,319.45 106.64,319.45" fill="#b44ca4" stroke="none" stroke-width="0" />
<polygon points="123.90,294.70 126.47,299.15 121.34,299.15" fill="#b44ca4" stroke="none" stroke-width="0" />
<line x1="80.00" y1="339.60" x2="80.00" y2="343.50" stroke="#111111" stroke-width="0.8" />
<line x1="78.20" y1="339.60" x2="81.80" y2="339.60" stroke="#111111" stroke-width="0.8" />
<line x1="78.20" y1="343.50" x2="81.80" y2="343.50" stroke="#111111" stroke-width="0.8" />
<line x1="109.20" y1="334.70" x2="109.20" y2="341.80" stroke="#111111" stroke-width="0.8" />
<line x1="107.40" y1="334.70" x2="111.00" y2="334.70" stroke="#111111" stroke-width="0.8" />
<line x1="107.40" y1="341.80" x2="111.00" y2="341.80" stroke="#111111" stroke-width="0.8" />
<polyline points="65.50,338.20 80.00,341.80 94.60,344.40 109.20,340.00 123.90,315.40" stroke="#111111" stroke-width="1.0" fill="none" />
<circle cx="65.50" cy="338.20" r="2.20" fill="#111111"/>
<circle cx="80.00" cy="341.80" r="2.20" fill="#111111"/>
<circle cx="94.60" cy="344.40" r="2.20" fill="#111111"/>
<circle cx="109.20" cy="340.00" r="2.20" fill="#111111"/>
<rect x="121.80" y="313.30" width="4.20" height="4.20" fill="#111111"/>
<line x1="80.00" y1="342.60" x2="80.00" y2="350.50" stroke="#3b58a6" stroke-width="0.8" />
<line x1="78.20" y1="342.60" x2="81.80" y2="342.60" stroke="#3b58a6" stroke-width="0.8" />
<line x1="78.20" y1="350.50" x2="81.80" y2="350.50" stroke="#3b58a6" stroke-width="0.8" />
<line x1="94.60" y1="340.90" x2="94.60" y2="351.40" stroke="#3b58a6" stroke-width="0.8" />
<line x1="92.80" y1="340.90" x2="96.40" y2="340.90" stroke="#3b58a6" stroke-width="0.8" />
<line x1="92.80" y1="351.40" x2="96.40" y2="351.40" stroke="#3b58a6" stroke-width="0.8" />
<line x1="109.20" y1="343.30" x2="109.20" y2="347.30" stroke="#3b58a6" stroke-width="0.8" />
<line x1="107.40" y1="343.30" x2="111.00" y2="343.30" stroke="#3b58a6" stroke-width="0.8" />
<line x1="107.40" y1="347.30" x2="111.00" y2="347.30" stroke="#3b58a6" stroke-width="0.8" />
<line x1="123.90" y1="346.10" x2="123.90" y2="351.40" stroke="#3b58a6" stroke-width="0.8" />
<line x1="122.10" y1="346.10" x2="125.70" y2="346.10" stroke="#3b58a6" stroke-width="0.8" />
<line x1="122.10" y1="351.40" x2="125.70" y2="351.40" stroke="#3b58a6" stroke-width="0.8" />
<polyline points="65.50,351.00 80.00,345.80 94.60,345.30 109.20,345.30 123.90,348.80" stroke="#3b58a6" stroke-width="1.0" fill="none" />
<rect x="63.40" y="348.90" width="4.20" height="4.20" fill="#3b58a6"/>
<rect x="77.90" y="343.70" width="4.20" height="4.20" fill="#3b58a6"/>
<rect x="92.50" y="343.20" width="4.20" height="4.20" fill="#3b58a6"/>
<rect x="107.10" y="343.20" width="4.20" height="4.20" fill="#3b58a6"/>
<rect x="121.80" y="346.70" width="4.20" height="4.20" fill="#3b58a6"/>
<line x1="49.50" y1="367.40" x2="55.80" y2="367.40" stroke="#1a1a1a" stroke-width="1" />
<text x="35.76" y="370.55" font-size="8.806" text-anchor="start" fill="#222" stroke="#222" stroke-width="0.22" >0.0</text>
<line x1="49.50" y1="330.87" x2="55.80" y2="330.87" stroke="#1a1a1a" stroke-width="1" />
<text x="14.19" y="334.02" font-size="8.806" text-anchor="start" fill="#222" stroke="#222" stroke-width="0.22" >5.0×10<tspan font-size="6.34" dy="-3.35">11</tspan></text>
<line x1="49.50" y1="294.33" x2="55.80" y2="294.33" stroke="#1a1a1a" stroke-width="1" />
<text x="13.75" y="297.49" font-size="8.806" text-anchor="start" fill="#222" stroke="#222" stroke-width="0.22" >1.0×10<tspan font-size="6.34" dy="-3.35">12</tspan></text>
<line x1="49.50" y1="257.80" x2="55.80" y2="257.80" stroke="#1a1a1a" stroke-width="1" />
<text x="13.75" y="260.95" font-size="8.806" text-anchor="start" fill="#222" stroke="#222" stroke-width="0.22" >1.5×10<tspan font-size="6.34" dy="-3.35">12</tspan></text>
<line x1="58.50" y1="267.40" x2="67.80" y2="267.40" stroke="#111111" stroke-width="1.0" />
<circle cx="63.15" cy="267.40" r="2.38" fill="#111111"/>
<text x="70.02" y="269.40" font-size="7.815" text-anchor="start" fill="#111" stroke="#111" stroke-width="0.22" >Membrane bound</text>
<line x1="58.50" y1="276.60" x2="67.80" y2="276.60" stroke="#3b58a6" stroke-width="1.0" />
<rect x="60.88" y="274.33" width="4.54" height="4.54" fill="#3b58a6"/>
<text x="69.95" y="278.90" font-size="7.815" text-anchor="start" fill="#111" stroke="#111" stroke-width="0.22" >Internalized</text>
<line x1="58.50" y1="285.60" x2="67.80" y2="285.60" stroke="#c777bb" stroke-width="1.0" />
<polygon points="63.15,282.68 65.92,287.50 60.38,287.50" fill="#b44ca4" stroke="none" stroke-width="0" />
<text x="70.49" y="288.20" font-size="7.815" text-anchor="start" fill="#111" stroke="#111" stroke-width="0.22" >Total</text>
<line x1="65.50" y1="367.40" x2="65.50" y2="373.40" stroke="#1a1a1a" stroke-width="1" />
<text x="0.00" y="0.00" font-size="8.3" text-anchor="end" fill="#222" stroke="#222" stroke-width="0.22" transform="translate(67.40,379.00) rotate(-45)">30 min</text>
<line x1="80.00" y1="367.40" x2="80.00" y2="373.40" stroke="#1a1a1a" stroke-width="1" />
<text x="0.00" y="0.00" font-size="8.3" text-anchor="end" fill="#222" stroke="#222" stroke-width="0.22" transform="translate(81.90,379.00) rotate(-45)">1 h</text>
<line x1="94.60" y1="367.40" x2="94.60" y2="373.40" stroke="#1a1a1a" stroke-width="1" />
<text x="0.00" y="0.00" font-size="8.3" text-anchor="end" fill="#222" stroke="#222" stroke-width="0.22" transform="translate(96.50,379.00) rotate(-45)">2 h</text>
<line x1="109.20" y1="367.40" x2="109.20" y2="373.40" stroke="#1a1a1a" stroke-width="1" />
<text x="0.00" y="0.00" font-size="8.3" text-anchor="end" fill="#222" stroke="#222" stroke-width="0.22" transform="translate(111.10,379.00) rotate(-45)">3 h</text>
<line x1="123.90" y1="367.40" x2="123.90" y2="373.40" stroke="#1a1a1a" stroke-width="1" />
<text x="0.00" y="0.00" font-size="8.3" text-anchor="end" fill="#222" stroke="#222" stroke-width="0.22" transform="translate(125.80,379.00) rotate(-45)">24 h</text>
<text x="0.00" y="0.00" font-size="8.3" text-anchor="middle" fill="#222" stroke="#222" stroke-width="0.22" transform="translate(7.3,312.0) rotate(-90)">Number of molecules</text>
<rect x="191.60" y="259.20" width="78.40" height="107.80" fill="none" stroke="#5a5a5a" stroke-width="1.1"/>
<line x1="191.60" y1="258.90" x2="191.60" y2="367.50" stroke="#1a1a1a" stroke-width="1.1" />
<line x1="191.10" y1="367.00" x2="270.40" y2="367.00" stroke="#1a1a1a" stroke-width="1.1" />
<line x1="230.80" y1="336.40" x2="230.80" y2="343.90" stroke="#c777bb" stroke-width="0.8" />
<line x1="229.00" y1="336.40" x2="232.60" y2="336.40" stroke="#c777bb" stroke-width="0.8" />
<line x1="229.00" y1="343.90" x2="232.60" y2="343.90" stroke="#c777bb" stroke-width="0.8" />
<line x1="245.40" y1="331.40" x2="245.40" y2="336.50" stroke="#c777bb" stroke-width="0.8" />
<line x1="243.60" y1="331.40" x2="247.20" y2="331.40" stroke="#c777bb" stroke-width="0.8" />
<line x1="243.60" y1="336.50" x2="247.20" y2="336.50" stroke="#c777bb" stroke-width="0.8" />
<polyline points="201.50,351.00 216.10,349.70 230.80,340.20 245.40,334.40 259.90,279.50" stroke="#c777bb" stroke-width="1.0" fill="none" />
<polygon points="201.50,348.30 204.06,352.75 198.94,352.75" fill="#b44ca4" stroke="none" stroke-width="0" />
<polygon points="216.10,347.00 218.66,351.45 213.53,351.45" fill="#b44ca4" stroke="none" stroke-width="0" />
<polygon points="230.80,337.50 233.37,341.95 228.24,341.95" fill="#b44ca4" stroke="none" stroke-width="0" />
<polygon points="245.40,331.70 247.97,336.15 242.84,336.15" fill="#b44ca4" stroke="none" stroke-width="0" />
<polygon points="259.90,276.80 262.46,281.25 257.33,281.25" fill="#b44ca4" stroke="none" stroke-width="0" />
<polyline points="201.50,358.50 216.10,357.00 230.80,352.20 245.40,347.20 259.90,303.80" stroke="#3b58a6" stroke-width="1.0" fill="none" />
<rect x="199.40" y="356.40" width="4.20" height="4.20" fill="#3b58a6"/>
<rect x="214.00" y="354.90" width="4.20" height="4.20" fill="#3b58a6"/>
<rect x="228.70" y="350.10" width="4.20" height="4.20" fill="#3b58a6"/>
<rect x="243.30" y="345.10" width="4.20" height="4.20" fill="#3b58a6"/>
<rect x="257.80" y="301.70" width="4.20" height="4.20" fill="#3b58a6"/>
<line x1="230.80" y1="352.80" x2="230.80" y2="357.60" stroke="#111111" stroke-width="0.8" />
<line x1="229.00" y1="352.80" x2="232.60" y2="352.80" stroke="#111111" stroke-width="0.8" />
<line x1="229.00" y1="357.60" x2="232.60" y2="357.60" stroke="#111111" stroke-width="0.8" />
<polyline points="201.50,359.70 216.10,359.70 230.80,355.20 245.40,354.00 259.90,342.70" stroke="#111111" stroke-width="1.0" fill="none" />
<circle cx="201.50" cy="359.70" r="2.20" fill="#111111"/>
<circle cx="216.10" cy="359.70" r="2.20" fill="#111111"/>
<circle cx="230.80" cy="355.20" r="2.20" fill="#111111"/>
<circle cx="245.40" cy="354.00" r="2.20" fill="#111111"/>
<circle cx="259.90" cy="342.70" r="2.20" fill="#111111"/>
<line x1="185.90" y1="367.00" x2="191.60" y2="367.00" stroke="#1a1a1a" stroke-width="1" />
<text x="178.12" y="370.12" font-size="8.703" text-anchor="start" fill="#222" stroke="#222" stroke-width="0.22" >0</text>
<line x1="185.90" y1="347.38" x2="191.60" y2="347.38" stroke="#1a1a1a" stroke-width="1" />
<text x="156.80" y="350.50" font-size="8.703" text-anchor="start" fill="#222" stroke="#222" stroke-width="0.22" >1×10<tspan font-size="6.27" dy="-3.31">11</tspan></text>
<line x1="185.90" y1="327.76" x2="191.60" y2="327.76" stroke="#1a1a1a" stroke-width="1" />
<text x="156.80" y="330.88" font-size="8.703" text-anchor="start" fill="#222" stroke="#222" stroke-width="0.22" >2×10<tspan font-size="6.27" dy="-3.31">11</tspan></text>
<line x1="185.90" y1="308.14" x2="191.60" y2="308.14" stroke="#1a1a1a" stroke-width="1" />
<text x="156.80" y="311.26" font-size="8.703" text-anchor="start" fill="#222" stroke="#222" stroke-width="0.22" >3×10<tspan font-size="6.27" dy="-3.31">11</tspan></text>
<line x1="185.90" y1="288.52" x2="191.60" y2="288.52" stroke="#1a1a1a" stroke-width="1" />
<text x="156.80" y="291.64" font-size="8.703" text-anchor="start" fill="#222" stroke="#222" stroke-width="0.22" >4×10<tspan font-size="6.27" dy="-3.31">11</tspan></text>
<line x1="185.90" y1="268.90" x2="191.60" y2="268.90" stroke="#1a1a1a" stroke-width="1" />
<text x="156.80" y="272.02" font-size="8.703" text-anchor="start" fill="#222" stroke="#222" stroke-width="0.22" >5×10<tspan font-size="6.27" dy="-3.31">11</tspan></text>
<line x1="195.00" y1="269.00" x2="204.30" y2="269.00" stroke="#111111" stroke-width="1.0" />
<circle cx="199.65" cy="269.00" r="2.38" fill="#111111"/>
<text x="206.22" y="270.50" font-size="7.828" text-anchor="start" fill="#111" stroke="#111" stroke-width="0.22" >Membrane bound</text>
<line x1="195.00" y1="278.20" x2="204.30" y2="278.20" stroke="#3b58a6" stroke-width="1.0" />
<rect x="197.38" y="275.93" width="4.54" height="4.54" fill="#3b58a6"/>
<text x="206.15" y="280.10" font-size="7.828" text-anchor="start" fill="#111" stroke="#111" stroke-width="0.22" >Internalized</text>
<line x1="195.00" y1="286.90" x2="204.30" y2="286.90" stroke="#c777bb" stroke-width="1.0" />
<polygon points="199.65,283.98 202.42,288.80 196.88,288.80" fill="#b44ca4" stroke="none" stroke-width="0" />
<text x="206.69" y="289.10" font-size="7.828" text-anchor="start" fill="#111" stroke="#111" stroke-width="0.22" >Total</text>
<line x1="201.50" y1="367.00" x2="201.50" y2="373.00" stroke="#1a1a1a" stroke-width="1" />
<text x="0.00" y="0.00" font-size="8.3" text-anchor="end" fill="#222" stroke="#222" stroke-width="0.22" transform="translate(203.40,378.60) rotate(-45)">30 min</text>
<line x1="216.10" y1="367.00" x2="216.10" y2="373.00" stroke="#1a1a1a" stroke-width="1" />
<text x="0.00" y="0.00" font-size="8.3" text-anchor="end" fill="#222" stroke="#222" stroke-width="0.22" transform="translate(218.00,378.60) rotate(-45)">1 h</text>
<line x1="230.80" y1="367.00" x2="230.80" y2="373.00" stroke="#1a1a1a" stroke-width="1" />
<text x="0.00" y="0.00" font-size="8.3" text-anchor="end" fill="#222" stroke="#222" stroke-width="0.22" transform="translate(232.70,378.60) rotate(-45)">2 h</text>
<line x1="245.40" y1="367.00" x2="245.40" y2="373.00" stroke="#1a1a1a" stroke-width="1" />
<text x="0.00" y="0.00" font-size="8.3" text-anchor="end" fill="#222" stroke="#222" stroke-width="0.22" transform="translate(247.30,378.60) rotate(-45)">3 h</text>
<line x1="259.90" y1="367.00" x2="259.90" y2="373.00" stroke="#1a1a1a" stroke-width="1" />
<text x="0.00" y="0.00" font-size="8.3" text-anchor="end" fill="#222" stroke="#222" stroke-width="0.22" transform="translate(261.80,378.60) rotate(-45)">24 h</text>
<text x="0.00" y="0.00" font-size="8.3" text-anchor="middle" fill="#222" stroke="#222" stroke-width="0.22" transform="translate(147.6,316.6) rotate(-90)">Number of molecules</text>
<rect x="304.20" y="259.90" width="89.50" height="108.00" fill="none" stroke="#5a5a5a" stroke-width="1.1"/>
<line x1="304.20" y1="259.60" x2="304.20" y2="368.40" stroke="#1a1a1a" stroke-width="1.1" />
<line x1="303.70" y1="367.90" x2="394.10" y2="367.90" stroke="#1a1a1a" stroke-width="1.1" />
<g>
<line x1="314.14" y1="283.00" x2="314.14" y2="290.00" stroke="#555" stroke-width="0.8" />
<line x1="312.34" y1="283.00" x2="315.94" y2="283.00" stroke="#555" stroke-width="0.8" />
<line x1="312.34" y1="290.00" x2="315.94" y2="290.00" stroke="#555" stroke-width="0.8" />
<line x1="324.09" y1="291.70" x2="324.09" y2="307.10" stroke="#555" stroke-width="0.8" />
<line x1="322.29" y1="291.70" x2="325.89" y2="291.70" stroke="#555" stroke-width="0.8" />
<line x1="322.29" y1="307.10" x2="325.89" y2="307.10" stroke="#555" stroke-width="0.8" />
<line x1="334.03" y1="304.50" x2="334.03" y2="324.60" stroke="#555" stroke-width="0.8" />
<line x1="332.23" y1="304.50" x2="335.83" y2="304.50" stroke="#555" stroke-width="0.8" />
<line x1="332.23" y1="324.60" x2="335.83" y2="324.60" stroke="#555" stroke-width="0.8" />
<line x1="343.98" y1="308.30" x2="343.98" y2="344.00" stroke="#555" stroke-width="0.8" />
<line x1="342.18" y1="308.30" x2="345.78" y2="308.30" stroke="#555" stroke-width="0.8" />
<line x1="342.18" y1="344.00" x2="345.78" y2="344.00" stroke="#555" stroke-width="0.8" />
<line x1="353.92" y1="336.90" x2="353.92" y2="343.60" stroke="#555" stroke-width="0.8" />
<line x1="352.12" y1="336.90" x2="355.72" y2="336.90" stroke="#555" stroke-width="0.8" />
<line x1="352.12" y1="343.60" x2="355.72" y2="343.60" stroke="#555" stroke-width="0.8" />
<line x1="363.86" y1="353.00" x2="363.86" y2="359.00" stroke="#555" stroke-width="0.8" />
<line x1="362.06" y1="353.00" x2="365.66" y2="353.00" stroke="#555" stroke-width="0.8" />
<line x1="362.06" y1="359.00" x2="365.66" y2="359.00" stroke="#555" stroke-width="0.8" />
<line x1="373.81" y1="353.60" x2="373.81" y2="361.90" stroke="#555" stroke-width="0.8" />
<line x1="372.01" y1="353.60" x2="375.61" y2="353.60" stroke="#555" stroke-width="0.8" />
<line x1="372.01" y1="361.90" x2="375.61" y2="361.90" stroke="#555" stroke-width="0.8" />
<line x1="314.14" y1="297.30" x2="314.14" y2="300.30" stroke="#d890c8" stroke-width="0.8" />
<line x1="312.34" y1="297.30" x2="315.94" y2="297.30" stroke="#d890c8" stroke-width="0.8" />
<line x1="312.34" y1="300.30" x2="315.94" y2="300.30" stroke="#d890c8" stroke-width="0.8" />
<line x1="324.09" y1="313.00" x2="324.09" y2="321.40" stroke="#d890c8" stroke-width="0.8" />
<line x1="322.29" y1="313.00" x2="325.89" y2="313.00" stroke="#d890c8" stroke-width="0.8" />
<line x1="322.29" y1="321.40" x2="325.89" y2="321.40" stroke="#d890c8" stroke-width="0.8" />
<line x1="334.03" y1="332.00" x2="334.03" y2="341.70" stroke="#d890c8" stroke-width="0.8" />
<line x1="332.23" y1="332.00" x2="335.83" y2="332.00" stroke="#d890c8" stroke-width="0.8" />
<line x1="332.23" y1="341.70" x2="335.83" y2="341.70" stroke="#d890c8" stroke-width="0.8" />
<line x1="343.98" y1="345.00" x2="343.98" y2="361.00" stroke="#d890c8" stroke-width="0.8" />
<line x1="342.18" y1="345.00" x2="345.78" y2="345.00" stroke="#d890c8" stroke-width="0.8" />
<line x1="342.18" y1="361.00" x2="345.78" y2="361.00" stroke="#d890c8" stroke-width="0.8" />
<line x1="353.92" y1="357.00" x2="353.92" y2="361.00" stroke="#d890c8" stroke-width="0.8" />
<line x1="352.12" y1="357.00" x2="355.72" y2="357.00" stroke="#d890c8" stroke-width="0.8" />
<line x1="352.12" y1="361.00" x2="355.72" y2="361.00" stroke="#d890c8" stroke-width="0.8" />
<line x1="363.86" y1="359.50" x2="363.86" y2="363.00" stroke="#d890c8" stroke-width="0.8" />
<line x1="362.06" y1="359.50" x2="365.66" y2="359.50" stroke="#d890c8" stroke-width="0.8" />
<line x1="362.06" y1="363.00" x2="365.66" y2="363.00" stroke="#d890c8" stroke-width="0.8" />
<line x1="373.81" y1="355.50" x2="373.81" y2="361.00" stroke="#d890c8" stroke-width="0.8" />
<line x1="372.01" y1="355.50" x2="375.61" y2="355.50" stroke="#d890c8" stroke-width="0.8" />
<line x1="372.01" y1="361.00" x2="375.61" y2="361.00" stroke="#d890c8" stroke-width="0.8" />
<polyline points="304.20,281.95 304.78,282.23 305.37,282.51 305.95,282.81 306.54,283.11 307.12,283.43 307.71,283.76 308.29,284.10 308.88,284.46 309.46,284.82 310.05,285.20 310.63,285.59 311.22,285.99 311.80,286.41 312.39,286.84 312.97,287.29 313.56,287.75 314.14,288.22 314.73,288.71 315.31,289.21 315.90,289.73 316.48,290.27 317.07,290.82 317.65,291.38 318.24,291.97 318.82,292.56 319.41,293.18 319.99,293.81 320.58,294.45 321.16,295.11 321.75,295.79 322.33,296.49 322.92,297.20 323.50,297.92 324.09,298.66 324.67,299.42 325.26,300.19 325.84,300.98 326.43,301.78 327.01,302.60 327.60,303.43 328.18,304.27 328.77,305.13 329.35,305.99 329.94,306.87 330.52,307.76 331.11,308.67 331.69,309.58 332.28,310.50 332.86,311.43 333.45,312.36 334.03,313.30 334.62,314.25 335.20,315.21 335.79,316.17 336.37,317.13 336.96,318.09 337.54,319.06 338.13,320.03 338.71,320.99 339.30,321.96 339.88,322.92 340.47,323.88 341.05,324.84 341.64,325.79 342.22,326.74 342.81,327.68 343.39,328.61 343.98,329.54 344.56,330.45 345.15,331.36 345.73,332.26 346.32,333.14 346.90,334.02 347.49,334.88 348.07,335.73 348.66,336.57 349.24,337.39 349.83,338.21 350.41,339.00 351.00,339.78 351.58,340.55 352.17,341.30 352.75,342.03 353.34,342.75 353.92,343.46 354.50,344.15 355.09,344.82 355.67,345.47 356.26,346.11 356.84,346.74 357.43,347.34 358.01,347.93 358.60,348.51 359.18,349.07 359.77,349.61 360.35,350.14 360.94,350.65 361.52,351.15 362.11,351.64 362.69,352.10 363.28,352.56 363.86,353.00 364.45,353.42 365.03,353.83 365.62,354.23 366.20,354.62 366.79,354.99 367.37,355.35 367.96,355.70 368.54,356.04 369.13,356.36 369.71,356.67 370.30,356.98 370.88,357.27 371.47,357.55 372.05,357.82 372.64,358.08 373.22,358.33 373.81,358.57" stroke="#111" stroke-width="1.3" fill="none" />
<polyline points="304.20,284.67 304.78,285.11 305.37,285.58 305.95,286.07 306.54,286.57 307.12,287.11 307.71,287.66 308.29,288.24 308.88,288.84 309.46,289.47 310.05,290.12 310.63,290.80 311.22,291.50 311.80,292.23 312.39,292.99 312.97,293.77 313.56,294.58 314.14,295.42 314.73,296.28 315.31,297.17 315.90,298.09 316.48,299.03 317.07,300.00 317.65,301.00 318.24,302.02 318.82,303.06 319.41,304.13 319.99,305.22 320.58,306.33 321.16,307.45 321.75,308.60 322.33,309.76 322.92,310.94 323.50,312.13 324.09,313.34 324.67,314.55 325.26,315.77 325.84,317.00 326.43,318.23 327.01,319.46 327.60,320.70 328.18,321.93 328.77,323.16 329.35,324.38 329.94,325.59 330.52,326.80 331.11,327.99 331.69,329.17 332.28,330.34 332.86,331.49 333.45,332.62 334.03,333.73 334.62,334.83 335.20,335.90 335.79,336.95 336.37,337.97 336.96,338.97 337.54,339.95 338.13,340.89 338.71,341.82 339.30,342.71 339.88,343.58 340.47,344.43 341.05,345.24 341.64,346.03 342.22,346.79 342.81,347.53 343.39,348.24 343.98,348.92 344.56,349.58 345.15,350.21 345.73,350.82 346.32,351.40 346.90,351.96 347.49,352.49 348.07,353.01 348.66,353.50 349.24,353.97 349.83,354.41 350.41,354.84 351.00,355.25 351.58,355.64 352.17,356.02 352.75,356.37 353.34,356.71 353.92,357.03 354.50,357.34 355.09,357.63 355.67,357.91 356.26,358.17 356.84,358.43 357.43,358.66 358.01,358.89 358.60,359.11 359.18,359.31 359.77,359.51 360.35,359.69 360.94,359.86 361.52,360.03 362.11,360.19 362.69,360.34 363.28,360.48 363.86,360.61 364.45,360.74 365.03,360.86 365.62,360.97 366.20,361.08 366.79,361.18 367.37,361.28 367.96,361.37 368.54,361.46 369.13,361.54 369.71,361.62 370.30,361.69 370.88,361.76 371.47,361.83 372.05,361.89 372.64,361.95 373.22,362.01 373.81,362.06" stroke="#c458b4" stroke-width="1.3" fill="none" />
<circle cx="314.14" cy="286.40" r="2.0" fill="#111"/>
<circle cx="324.09" cy="300.00" r="2.0" fill="#111"/>
<circle cx="334.03" cy="314.30" r="2.0" fill="#111"/>
<circle cx="343.98" cy="326.20" r="2.0" fill="#111"/>
<circle cx="353.92" cy="340.50" r="2.0" fill="#111"/>
<circle cx="363.86" cy="356.40" r="2.0" fill="#111"/>
<circle cx="373.81" cy="358.30" r="2.0" fill="#111"/>
<circle cx="314.14" cy="298.80" r="1.9" fill="#c060b0" stroke="#a84098" stroke-width="0.5"/>
<circle cx="324.09" cy="317.40" r="1.9" fill="#c060b0" stroke="#a84098" stroke-width="0.5"/>
<circle cx="334.03" cy="337.40" r="1.9" fill="#c060b0" stroke="#a84098" stroke-width="0.5"/>
<circle cx="343.98" cy="353.10" r="1.9" fill="#c060b0" stroke="#a84098" stroke-width="0.5"/>
<circle cx="353.92" cy="358.80" r="1.9" fill="#c060b0" stroke="#a84098" stroke-width="0.5"/>
<circle cx="363.86" cy="361.20" r="1.9" fill="#c060b0" stroke="#a84098" stroke-width="0.5"/>
<circle cx="373.81" cy="358.30" r="1.9" fill="#c060b0" stroke="#a84098" stroke-width="0.5"/>
</g>
<line x1="304.20" y1="367.90" x2="393.70" y2="367.90" stroke="#1a1a1a" stroke-width="1.1" />
<line x1="297.70" y1="367.90" x2="304.20" y2="367.90" stroke="#1a1a1a" stroke-width="1" />
<text x="291.32" y="370.74" font-size="7.935" text-anchor="start" fill="#222" stroke="#222" stroke-width="0.22" >0</text>
<line x1="297.70" y1="318.60" x2="304.20" y2="318.60" stroke="#1a1a1a" stroke-width="1" />
<text x="286.96" y="321.44" font-size="7.935" text-anchor="start" fill="#222" stroke="#222" stroke-width="0.22" >50</text>
<line x1="297.70" y1="269.30" x2="304.20" y2="269.30" stroke="#1a1a1a" stroke-width="1" />
<text x="282.52" y="272.14" font-size="7.935" text-anchor="start" fill="#222" stroke="#222" stroke-width="0.22" >100</text>
<line x1="304.20" y1="367.90" x2="304.20" y2="372.90" stroke="#1a1a1a" stroke-width="1" />
<text x="303.60" y="383.30" font-size="9.0" text-anchor="middle" fill="#222" stroke="#222" stroke-width="0.22" >-5</text>
<line x1="314.14" y1="367.90" x2="314.14" y2="372.90" stroke="#1a1a1a" stroke-width="1" />
<text x="313.54" y="383.30" font-size="9.0" text-anchor="middle" fill="#222" stroke="#222" stroke-width="0.22" >-4</text>
<line x1="324.09" y1="367.90" x2="324.09" y2="372.90" stroke="#1a1a1a" stroke-width="1" />
<text x="323.49" y="383.30" font-size="9.0" text-anchor="middle" fill="#222" stroke="#222" stroke-width="0.22" >-3</text>
<line x1="334.03" y1="367.90" x2="334.03" y2="372.90" stroke="#1a1a1a" stroke-width="1" />
<text x="333.43" y="383.30" font-size="9.0" text-anchor="middle" fill="#222" stroke="#222" stroke-width="0.22" >-2</text>
<line x1="343.98" y1="367.90" x2="343.98" y2="372.90" stroke="#1a1a1a" stroke-width="1" />
<text x="343.38" y="383.30" font-size="9.0" text-anchor="middle" fill="#222" stroke="#222" stroke-width="0.22" >-1</text>
<line x1="353.92" y1="367.90" x2="353.92" y2="372.90" stroke="#1a1a1a" stroke-width="1" />
<text x="353.92" y="383.30" font-size="9.0" text-anchor="middle" fill="#222" stroke="#222" stroke-width="0.22" >0</text>
<line x1="363.86" y1="367.90" x2="363.86" y2="372.90" stroke="#1a1a1a" stroke-width="1" />
<text x="363.86" y="383.30" font-size="9.0" text-anchor="middle" fill="#222" stroke="#222" stroke-width="0.22" >1</text>
<line x1="373.81" y1="367.90" x2="373.81" y2="372.90" stroke="#1a1a1a" stroke-width="1" />
<text x="373.81" y="383.30" font-size="9.0" text-anchor="middle" fill="#222" stroke="#222" stroke-width="0.22" >2</text>
<line x1="383.75" y1="367.90" x2="383.75" y2="372.90" stroke="#1a1a1a" stroke-width="1" />
<text x="383.75" y="383.30" font-size="9.0" text-anchor="middle" fill="#222" stroke="#222" stroke-width="0.22" >3</text>
<line x1="393.70" y1="367.90" x2="393.70" y2="372.90" stroke="#1a1a1a" stroke-width="1" />
<text x="393.70" y="383.30" font-size="9.0" text-anchor="middle" fill="#222" stroke="#222" stroke-width="0.22" >4</text>
<text x="325.51" y="395.80" font-size="7.996" text-anchor="start" fill="#222" stroke="#222" stroke-width="0.22" >Log (nCi/mL)</text>
<text x="0.00" y="0.00" font-size="8.3" text-anchor="middle" fill="#222" stroke="#222" stroke-width="0.22" transform="translate(280.9,319.8) rotate(-90)">% Cell viability</text>
<line x1="309.20" y1="264.60" x2="322.40" y2="264.60" stroke="#c458b4" stroke-width="1.2" />
<circle cx="315.8" cy="264.6" r="2.1" fill="#c458b4"/>
<line x1="309.20" y1="275.80" x2="322.40" y2="275.80" stroke="#111" stroke-width="1.2" />
<rect x="313.70" y="273.70" width="4.20" height="4.20" fill="#111"/>
<text x="325.70" y="269.40" font-size="7.807" text-anchor="start" fill="#111" stroke="#111" stroke-width="0.22" >[<tspan font-size="4.84" dy="-2.81">225</tspan><tspan dy="2.81">Ac]DOTA-YS5</tspan></text>
<text x="325.70" y="280.00" font-size="7.807" text-anchor="start" fill="#111" stroke="#111" stroke-width="0.22" >[<tspan font-size="4.84" dy="-2.81">225</tspan><tspan dy="2.81">Ac]DOTA-IgG</tspan></text>
<rect x="437.70" y="257.80" width="75.00" height="109.50" fill="none" stroke="#5a5a5a" stroke-width="1.1"/>
<line x1="437.70" y1="257.50" x2="437.70" y2="367.80" stroke="#1a1a1a" stroke-width="1.1" />
<line x1="437.20" y1="367.30" x2="513.10" y2="367.30" stroke="#1a1a1a" stroke-width="1.1" />
<rect x="442.30" y="295.39" width="9.50" height="71.91" fill="#b5b5b5" stroke="#2a2a2a" stroke-width="0.8"/>
<rect x="456.20" y="319.12" width="9.40" height="48.18" fill="#b5b5b5" stroke="#2a2a2a" stroke-width="0.8"/>
<rect x="470.40" y="350.14" width="9.50" height="17.16" fill="#b5b5b5" stroke="#2a2a2a" stroke-width="0.8"/>
<rect x="485.00" y="365.11" width="9.00" height="2.19" fill="#b5b5b5" stroke="#2a2a2a" stroke-width="0.8"/>
<rect x="499.00" y="366.20" width="8.80" height="1.10" fill="#b5b5b5" stroke="#2a2a2a" stroke-width="0.8"/>
<line x1="446.90" y1="275.70" x2="446.90" y2="314.00" stroke="#555" stroke-width="0.8" />
<line x1="445.10" y1="275.70" x2="448.70" y2="275.70" stroke="#555" stroke-width="0.8" />
<line x1="445.10" y1="314.00" x2="448.70" y2="314.00" stroke="#555" stroke-width="0.8" />
<line x1="460.90" y1="302.50" x2="460.90" y2="336.00" stroke="#555" stroke-width="0.8" />
<line x1="459.10" y1="302.50" x2="462.70" y2="302.50" stroke="#555" stroke-width="0.8" />
<line x1="459.10" y1="336.00" x2="462.70" y2="336.00" stroke="#555" stroke-width="0.8" />
<line x1="475.10" y1="345.40" x2="475.10" y2="356.00" stroke="#555" stroke-width="0.8" />
<line x1="473.50" y1="345.40" x2="476.70" y2="345.40" stroke="#555" stroke-width="0.8" />
<line x1="473.50" y1="356.00" x2="476.70" y2="356.00" stroke="#555" stroke-width="0.8" />
<circle cx="446.80" cy="272.50" r="1.6" fill="#111"/>
<circle cx="443.90" cy="307.40" r="1.6" fill="#111"/>
<rect x="448.60" y="303.20" width="3" height="3" fill="#111"/>
<polygon points="460.90,299.20 462.80,302.50 459.00,302.50" fill="#111" stroke="none" stroke-width="0" />
<circle cx="460.90" cy="321.30" r="1.6" fill="#111"/>
<polygon points="460.90,331.40 462.80,334.70 459.00,334.70" fill="#111" stroke="none" stroke-width="0" />
<circle cx="475.10" cy="343.60" r="1.6" fill="#111"/>
<polygon points="475.10,349.30 477.00,352.60 473.20,352.60" fill="#111" stroke="none" stroke-width="0" />
<rect x="473.60" y="352.30" width="3" height="3" fill="#111"/>
<circle cx="486.50" cy="365.00" r="1.6" fill="#111"/>
<circle cx="489.50" cy="365.00" r="1.6" fill="#111"/>
<circle cx="492.50" cy="365.00" r="1.6" fill="#111"/>
<circle cx="500.50" cy="366.00" r="1.6" fill="#111"/>
<circle cx="503.40" cy="366.00" r="1.6" fill="#111"/>
<circle cx="506.30" cy="366.00" r="1.6" fill="#111"/>
<line x1="437.70" y1="367.30" x2="512.70" y2="367.30" stroke="#1a1a1a" stroke-width="1.1" />
<line x1="431.60" y1="367.30" x2="437.70" y2="367.30" stroke="#1a1a1a" stroke-width="1" />
<text x="423.96" y="370.19" font-size="8.065" text-anchor="start" fill="#222" stroke="#222" stroke-width="0.22" >0</text>
<line x1="431.60" y1="330.80" x2="437.70" y2="330.80" stroke="#1a1a1a" stroke-width="1" />
<text x="419.52" y="333.69" font-size="8.065" text-anchor="start" fill="#222" stroke="#222" stroke-width="0.22" >50</text>
<line x1="431.60" y1="294.30" x2="437.70" y2="294.30" stroke="#1a1a1a" stroke-width="1" />
<text x="415.00" y="297.19" font-size="8.065" text-anchor="start" fill="#222" stroke="#222" stroke-width="0.22" >100</text>
<line x1="431.60" y1="257.80" x2="437.70" y2="257.80" stroke="#1a1a1a" stroke-width="1" />
<text x="415.00" y="260.69" font-size="8.065" text-anchor="start" fill="#222" stroke="#222" stroke-width="0.22" >150</text>
<line x1="446.90" y1="367.30" x2="446.90" y2="373.30" stroke="#333" stroke-width="1" />
<text x="446.90" y="381.00" font-size="8.065" text-anchor="middle" fill="#222" stroke="#222" stroke-width="0.22" >0</text>
<line x1="460.80" y1="367.30" x2="460.80" y2="373.30" stroke="#333" stroke-width="1" />
<text x="460.80" y="381.00" font-size="8.065" text-anchor="middle" fill="#222" stroke="#222" stroke-width="0.22" >5</text>
<line x1="474.80" y1="367.30" x2="474.80" y2="373.30" stroke="#333" stroke-width="1" />
<text x="474.80" y="381.00" font-size="8.065" text-anchor="middle" fill="#222" stroke="#222" stroke-width="0.22" >10</text>
<line x1="489.20" y1="367.30" x2="489.20" y2="373.30" stroke="#333" stroke-width="1" />
<text x="489.20" y="381.00" font-size="8.065" text-anchor="middle" fill="#222" stroke="#222" stroke-width="0.22" >25</text>
<line x1="503.00" y1="367.30" x2="503.00" y2="373.30" stroke="#333" stroke-width="1" />
<text x="503.00" y="381.00" font-size="8.065" text-anchor="middle" fill="#222" stroke="#222" stroke-width="0.22" >50</text>
<text x="417.04" y="390.40" font-size="8.662" text-anchor="start" fill="#222" stroke="#222" stroke-width="0.22" >[<tspan font-size="5.37" dy="-3.12">225</tspan><tspan dy="3.12">Ac]DOTA-YS5 (nCi/mL)</tspan></text>
<text x="0.00" y="0.00" font-size="8.3" text-anchor="middle" fill="#222" stroke="#222" stroke-width="0.22" transform="translate(409.8,318.7) rotate(-90)">% Colonies</text>
</svg>
</body></html>
